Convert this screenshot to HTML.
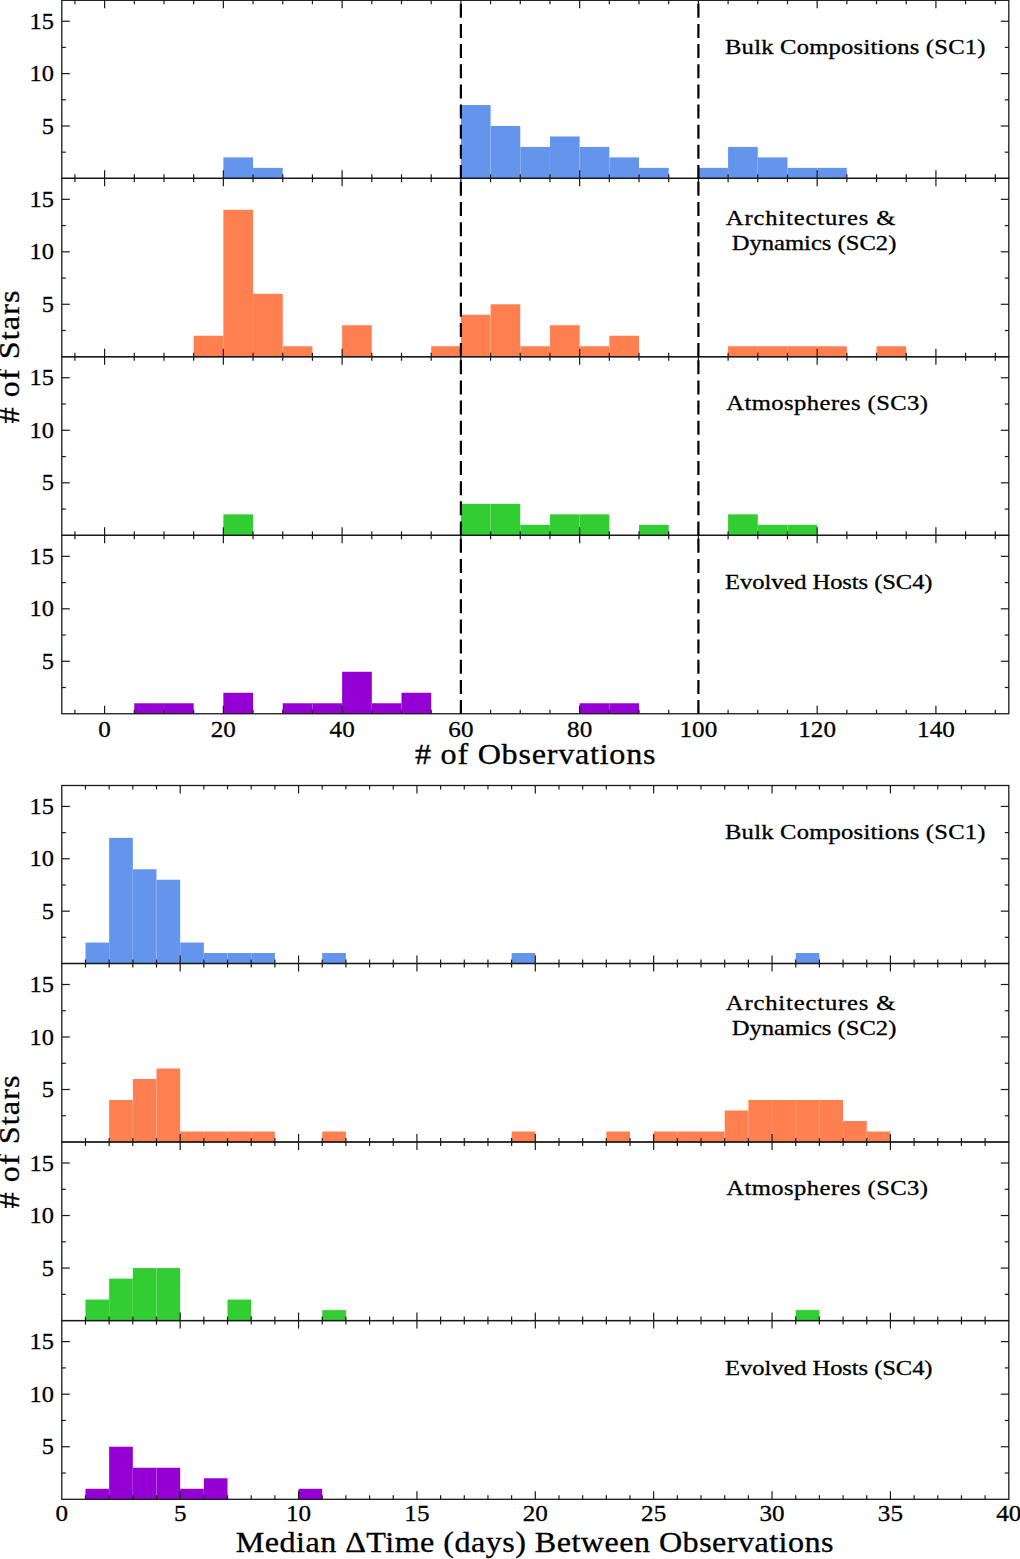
<!DOCTYPE html>
<html><head><meta charset="utf-8"><style>
html,body{margin:0;padding:0;background:#fff;width:1020px;height:1559px;overflow:hidden}
svg{display:block}
.tk{font-family:"Liberation Serif",serif;font-size:23.5px;fill:#000;stroke:#000;stroke-width:0.3px}
.lb{font-family:"Liberation Serif",serif;font-size:20.5px;fill:#000;stroke:#000;stroke-width:0.3px}
.ax{font-family:"Liberation Serif",serif;font-size:28.7px;fill:#000;stroke:#000;stroke-width:0.3px}
</style></head><body>
<svg width="1020" height="1559" viewBox="0 0 1020 1559">
<rect x="223.36" y="157.40" width="29.69" height="20.95" fill="#6495ED"/>
<rect x="253.05" y="167.88" width="29.69" height="10.47" fill="#6495ED"/>
<rect x="460.88" y="105.04" width="29.69" height="73.31" fill="#6495ED"/>
<rect x="490.57" y="125.98" width="29.69" height="52.37" fill="#6495ED"/>
<rect x="520.26" y="146.93" width="29.69" height="31.42" fill="#6495ED"/>
<rect x="549.95" y="136.46" width="29.69" height="41.89" fill="#6495ED"/>
<rect x="579.64" y="146.93" width="29.69" height="31.42" fill="#6495ED"/>
<rect x="609.33" y="157.40" width="29.69" height="20.95" fill="#6495ED"/>
<rect x="639.02" y="167.88" width="29.69" height="10.47" fill="#6495ED"/>
<rect x="698.40" y="167.88" width="29.69" height="10.47" fill="#6495ED"/>
<rect x="728.09" y="146.93" width="29.69" height="31.42" fill="#6495ED"/>
<rect x="757.78" y="157.40" width="29.69" height="20.95" fill="#6495ED"/>
<rect x="787.47" y="167.88" width="29.69" height="10.47" fill="#6495ED"/>
<rect x="817.16" y="167.88" width="29.69" height="10.47" fill="#6495ED"/>
<line x1="253.05" y1="167.88" x2="253.05" y2="178.35" stroke="#fff" stroke-opacity="0.12" stroke-width="0.6"/>
<line x1="490.57" y1="125.98" x2="490.57" y2="178.35" stroke="#fff" stroke-opacity="0.12" stroke-width="0.6"/>
<line x1="520.26" y1="146.93" x2="520.26" y2="178.35" stroke="#fff" stroke-opacity="0.12" stroke-width="0.6"/>
<line x1="549.95" y1="146.93" x2="549.95" y2="178.35" stroke="#fff" stroke-opacity="0.12" stroke-width="0.6"/>
<line x1="579.64" y1="146.93" x2="579.64" y2="178.35" stroke="#fff" stroke-opacity="0.12" stroke-width="0.6"/>
<line x1="609.33" y1="157.40" x2="609.33" y2="178.35" stroke="#fff" stroke-opacity="0.12" stroke-width="0.6"/>
<line x1="639.02" y1="167.88" x2="639.02" y2="178.35" stroke="#fff" stroke-opacity="0.12" stroke-width="0.6"/>
<line x1="728.09" y1="167.88" x2="728.09" y2="178.35" stroke="#fff" stroke-opacity="0.12" stroke-width="0.6"/>
<line x1="757.78" y1="157.40" x2="757.78" y2="178.35" stroke="#fff" stroke-opacity="0.12" stroke-width="0.6"/>
<line x1="787.47" y1="167.88" x2="787.47" y2="178.35" stroke="#fff" stroke-opacity="0.12" stroke-width="0.6"/>
<line x1="817.16" y1="167.88" x2="817.16" y2="178.35" stroke="#fff" stroke-opacity="0.12" stroke-width="0.6"/>
<line x1="74.91" y1="178.35" x2="74.91" y2="174.35" stroke="#1a1a1a" stroke-width="1.2"/>
<line x1="74.91" y1="0.30" x2="74.91" y2="4.30" stroke="#1a1a1a" stroke-width="1.2"/>
<line x1="104.60" y1="178.35" x2="104.60" y2="170.35" stroke="#1a1a1a" stroke-width="1.2"/>
<line x1="104.60" y1="0.30" x2="104.60" y2="8.30" stroke="#1a1a1a" stroke-width="1.2"/>
<line x1="134.29" y1="178.35" x2="134.29" y2="174.35" stroke="#1a1a1a" stroke-width="1.2"/>
<line x1="134.29" y1="0.30" x2="134.29" y2="4.30" stroke="#1a1a1a" stroke-width="1.2"/>
<line x1="163.98" y1="178.35" x2="163.98" y2="174.35" stroke="#1a1a1a" stroke-width="1.2"/>
<line x1="163.98" y1="0.30" x2="163.98" y2="4.30" stroke="#1a1a1a" stroke-width="1.2"/>
<line x1="193.67" y1="178.35" x2="193.67" y2="174.35" stroke="#1a1a1a" stroke-width="1.2"/>
<line x1="193.67" y1="0.30" x2="193.67" y2="4.30" stroke="#1a1a1a" stroke-width="1.2"/>
<line x1="223.36" y1="178.35" x2="223.36" y2="170.35" stroke="#1a1a1a" stroke-width="1.2"/>
<line x1="223.36" y1="0.30" x2="223.36" y2="8.30" stroke="#1a1a1a" stroke-width="1.2"/>
<line x1="253.05" y1="178.35" x2="253.05" y2="174.35" stroke="#1a1a1a" stroke-width="1.2"/>
<line x1="253.05" y1="0.30" x2="253.05" y2="4.30" stroke="#1a1a1a" stroke-width="1.2"/>
<line x1="282.74" y1="178.35" x2="282.74" y2="174.35" stroke="#1a1a1a" stroke-width="1.2"/>
<line x1="282.74" y1="0.30" x2="282.74" y2="4.30" stroke="#1a1a1a" stroke-width="1.2"/>
<line x1="312.43" y1="178.35" x2="312.43" y2="174.35" stroke="#1a1a1a" stroke-width="1.2"/>
<line x1="312.43" y1="0.30" x2="312.43" y2="4.30" stroke="#1a1a1a" stroke-width="1.2"/>
<line x1="342.12" y1="178.35" x2="342.12" y2="170.35" stroke="#1a1a1a" stroke-width="1.2"/>
<line x1="342.12" y1="0.30" x2="342.12" y2="8.30" stroke="#1a1a1a" stroke-width="1.2"/>
<line x1="371.81" y1="178.35" x2="371.81" y2="174.35" stroke="#1a1a1a" stroke-width="1.2"/>
<line x1="371.81" y1="0.30" x2="371.81" y2="4.30" stroke="#1a1a1a" stroke-width="1.2"/>
<line x1="401.50" y1="178.35" x2="401.50" y2="174.35" stroke="#1a1a1a" stroke-width="1.2"/>
<line x1="401.50" y1="0.30" x2="401.50" y2="4.30" stroke="#1a1a1a" stroke-width="1.2"/>
<line x1="431.19" y1="178.35" x2="431.19" y2="174.35" stroke="#1a1a1a" stroke-width="1.2"/>
<line x1="431.19" y1="0.30" x2="431.19" y2="4.30" stroke="#1a1a1a" stroke-width="1.2"/>
<line x1="460.88" y1="178.35" x2="460.88" y2="170.35" stroke="#1a1a1a" stroke-width="1.2"/>
<line x1="460.88" y1="0.30" x2="460.88" y2="8.30" stroke="#1a1a1a" stroke-width="1.2"/>
<line x1="490.57" y1="178.35" x2="490.57" y2="174.35" stroke="#1a1a1a" stroke-width="1.2"/>
<line x1="490.57" y1="0.30" x2="490.57" y2="4.30" stroke="#1a1a1a" stroke-width="1.2"/>
<line x1="520.26" y1="178.35" x2="520.26" y2="174.35" stroke="#1a1a1a" stroke-width="1.2"/>
<line x1="520.26" y1="0.30" x2="520.26" y2="4.30" stroke="#1a1a1a" stroke-width="1.2"/>
<line x1="549.95" y1="178.35" x2="549.95" y2="174.35" stroke="#1a1a1a" stroke-width="1.2"/>
<line x1="549.95" y1="0.30" x2="549.95" y2="4.30" stroke="#1a1a1a" stroke-width="1.2"/>
<line x1="579.64" y1="178.35" x2="579.64" y2="170.35" stroke="#1a1a1a" stroke-width="1.2"/>
<line x1="579.64" y1="0.30" x2="579.64" y2="8.30" stroke="#1a1a1a" stroke-width="1.2"/>
<line x1="609.33" y1="178.35" x2="609.33" y2="174.35" stroke="#1a1a1a" stroke-width="1.2"/>
<line x1="609.33" y1="0.30" x2="609.33" y2="4.30" stroke="#1a1a1a" stroke-width="1.2"/>
<line x1="639.02" y1="178.35" x2="639.02" y2="174.35" stroke="#1a1a1a" stroke-width="1.2"/>
<line x1="639.02" y1="0.30" x2="639.02" y2="4.30" stroke="#1a1a1a" stroke-width="1.2"/>
<line x1="668.71" y1="178.35" x2="668.71" y2="174.35" stroke="#1a1a1a" stroke-width="1.2"/>
<line x1="668.71" y1="0.30" x2="668.71" y2="4.30" stroke="#1a1a1a" stroke-width="1.2"/>
<line x1="698.40" y1="178.35" x2="698.40" y2="170.35" stroke="#1a1a1a" stroke-width="1.2"/>
<line x1="698.40" y1="0.30" x2="698.40" y2="8.30" stroke="#1a1a1a" stroke-width="1.2"/>
<line x1="728.09" y1="178.35" x2="728.09" y2="174.35" stroke="#1a1a1a" stroke-width="1.2"/>
<line x1="728.09" y1="0.30" x2="728.09" y2="4.30" stroke="#1a1a1a" stroke-width="1.2"/>
<line x1="757.78" y1="178.35" x2="757.78" y2="174.35" stroke="#1a1a1a" stroke-width="1.2"/>
<line x1="757.78" y1="0.30" x2="757.78" y2="4.30" stroke="#1a1a1a" stroke-width="1.2"/>
<line x1="787.47" y1="178.35" x2="787.47" y2="174.35" stroke="#1a1a1a" stroke-width="1.2"/>
<line x1="787.47" y1="0.30" x2="787.47" y2="4.30" stroke="#1a1a1a" stroke-width="1.2"/>
<line x1="817.16" y1="178.35" x2="817.16" y2="170.35" stroke="#1a1a1a" stroke-width="1.2"/>
<line x1="817.16" y1="0.30" x2="817.16" y2="8.30" stroke="#1a1a1a" stroke-width="1.2"/>
<line x1="846.85" y1="178.35" x2="846.85" y2="174.35" stroke="#1a1a1a" stroke-width="1.2"/>
<line x1="846.85" y1="0.30" x2="846.85" y2="4.30" stroke="#1a1a1a" stroke-width="1.2"/>
<line x1="876.54" y1="178.35" x2="876.54" y2="174.35" stroke="#1a1a1a" stroke-width="1.2"/>
<line x1="876.54" y1="0.30" x2="876.54" y2="4.30" stroke="#1a1a1a" stroke-width="1.2"/>
<line x1="906.23" y1="178.35" x2="906.23" y2="174.35" stroke="#1a1a1a" stroke-width="1.2"/>
<line x1="906.23" y1="0.30" x2="906.23" y2="4.30" stroke="#1a1a1a" stroke-width="1.2"/>
<line x1="935.92" y1="178.35" x2="935.92" y2="170.35" stroke="#1a1a1a" stroke-width="1.2"/>
<line x1="935.92" y1="0.30" x2="935.92" y2="8.30" stroke="#1a1a1a" stroke-width="1.2"/>
<line x1="965.61" y1="178.35" x2="965.61" y2="174.35" stroke="#1a1a1a" stroke-width="1.2"/>
<line x1="965.61" y1="0.30" x2="965.61" y2="4.30" stroke="#1a1a1a" stroke-width="1.2"/>
<line x1="995.30" y1="178.35" x2="995.30" y2="174.35" stroke="#1a1a1a" stroke-width="1.2"/>
<line x1="995.30" y1="0.30" x2="995.30" y2="4.30" stroke="#1a1a1a" stroke-width="1.2"/>
<line x1="61.80" y1="152.17" x2="65.80" y2="152.17" stroke="#1a1a1a" stroke-width="1.2"/>
<line x1="1008.80" y1="152.17" x2="1004.80" y2="152.17" stroke="#1a1a1a" stroke-width="1.2"/>
<line x1="61.80" y1="125.98" x2="69.80" y2="125.98" stroke="#1a1a1a" stroke-width="1.2"/>
<line x1="1008.80" y1="125.98" x2="1000.80" y2="125.98" stroke="#1a1a1a" stroke-width="1.2"/>
<text transform="translate(54.0,133.58) scale(1.04,1)" text-anchor="end" class="tk">5</text>
<line x1="61.80" y1="99.80" x2="65.80" y2="99.80" stroke="#1a1a1a" stroke-width="1.2"/>
<line x1="1008.80" y1="99.80" x2="1004.80" y2="99.80" stroke="#1a1a1a" stroke-width="1.2"/>
<line x1="61.80" y1="73.61" x2="69.80" y2="73.61" stroke="#1a1a1a" stroke-width="1.2"/>
<line x1="1008.80" y1="73.61" x2="1000.80" y2="73.61" stroke="#1a1a1a" stroke-width="1.2"/>
<text transform="translate(54.0,81.21) scale(1.04,1)" text-anchor="end" class="tk">10</text>
<line x1="61.80" y1="47.43" x2="65.80" y2="47.43" stroke="#1a1a1a" stroke-width="1.2"/>
<line x1="1008.80" y1="47.43" x2="1004.80" y2="47.43" stroke="#1a1a1a" stroke-width="1.2"/>
<line x1="61.80" y1="21.25" x2="69.80" y2="21.25" stroke="#1a1a1a" stroke-width="1.2"/>
<line x1="1008.80" y1="21.25" x2="1000.80" y2="21.25" stroke="#1a1a1a" stroke-width="1.2"/>
<text transform="translate(54.0,28.85) scale(1.04,1)" text-anchor="end" class="tk">15</text>
<text transform="translate(725.00,54.10) scale(1.2,1)" class="lb" textLength="217.1" lengthAdjust="spacing">Bulk Compositions (SC1)</text>
<rect x="61.8" y="0.3" width="947.0" height="178.04999999999998" fill="none" stroke="#1a1a1a" stroke-width="1.3"/>
<rect x="193.67" y="335.76" width="29.69" height="20.99" fill="#FF7F50"/>
<rect x="223.36" y="209.83" width="29.69" height="146.92" fill="#FF7F50"/>
<rect x="253.05" y="293.79" width="29.69" height="62.96" fill="#FF7F50"/>
<rect x="282.74" y="346.26" width="29.69" height="10.49" fill="#FF7F50"/>
<rect x="342.12" y="325.27" width="29.69" height="31.48" fill="#FF7F50"/>
<rect x="431.19" y="346.26" width="29.69" height="10.49" fill="#FF7F50"/>
<rect x="460.88" y="314.77" width="29.69" height="41.98" fill="#FF7F50"/>
<rect x="490.57" y="304.28" width="29.69" height="52.47" fill="#FF7F50"/>
<rect x="520.26" y="346.26" width="29.69" height="10.49" fill="#FF7F50"/>
<rect x="549.95" y="325.27" width="29.69" height="31.48" fill="#FF7F50"/>
<rect x="579.64" y="346.26" width="29.69" height="10.49" fill="#FF7F50"/>
<rect x="609.33" y="335.76" width="29.69" height="20.99" fill="#FF7F50"/>
<rect x="728.09" y="346.26" width="29.69" height="10.49" fill="#FF7F50"/>
<rect x="757.78" y="346.26" width="29.69" height="10.49" fill="#FF7F50"/>
<rect x="787.47" y="346.26" width="29.69" height="10.49" fill="#FF7F50"/>
<rect x="817.16" y="346.26" width="29.69" height="10.49" fill="#FF7F50"/>
<rect x="876.54" y="346.26" width="29.69" height="10.49" fill="#FF7F50"/>
<line x1="223.36" y1="335.76" x2="223.36" y2="356.75" stroke="#fff" stroke-opacity="0.12" stroke-width="0.6"/>
<line x1="253.05" y1="293.79" x2="253.05" y2="356.75" stroke="#fff" stroke-opacity="0.12" stroke-width="0.6"/>
<line x1="282.74" y1="346.26" x2="282.74" y2="356.75" stroke="#fff" stroke-opacity="0.12" stroke-width="0.6"/>
<line x1="460.88" y1="346.26" x2="460.88" y2="356.75" stroke="#fff" stroke-opacity="0.12" stroke-width="0.6"/>
<line x1="490.57" y1="314.77" x2="490.57" y2="356.75" stroke="#fff" stroke-opacity="0.12" stroke-width="0.6"/>
<line x1="520.26" y1="346.26" x2="520.26" y2="356.75" stroke="#fff" stroke-opacity="0.12" stroke-width="0.6"/>
<line x1="549.95" y1="346.26" x2="549.95" y2="356.75" stroke="#fff" stroke-opacity="0.12" stroke-width="0.6"/>
<line x1="579.64" y1="346.26" x2="579.64" y2="356.75" stroke="#fff" stroke-opacity="0.12" stroke-width="0.6"/>
<line x1="609.33" y1="346.26" x2="609.33" y2="356.75" stroke="#fff" stroke-opacity="0.12" stroke-width="0.6"/>
<line x1="757.78" y1="346.26" x2="757.78" y2="356.75" stroke="#fff" stroke-opacity="0.12" stroke-width="0.6"/>
<line x1="787.47" y1="346.26" x2="787.47" y2="356.75" stroke="#fff" stroke-opacity="0.12" stroke-width="0.6"/>
<line x1="817.16" y1="346.26" x2="817.16" y2="356.75" stroke="#fff" stroke-opacity="0.12" stroke-width="0.6"/>
<line x1="74.91" y1="356.75" x2="74.91" y2="352.75" stroke="#1a1a1a" stroke-width="1.2"/>
<line x1="74.91" y1="178.35" x2="74.91" y2="182.35" stroke="#1a1a1a" stroke-width="1.2"/>
<line x1="104.60" y1="356.75" x2="104.60" y2="348.75" stroke="#1a1a1a" stroke-width="1.2"/>
<line x1="104.60" y1="178.35" x2="104.60" y2="186.35" stroke="#1a1a1a" stroke-width="1.2"/>
<line x1="134.29" y1="356.75" x2="134.29" y2="352.75" stroke="#1a1a1a" stroke-width="1.2"/>
<line x1="134.29" y1="178.35" x2="134.29" y2="182.35" stroke="#1a1a1a" stroke-width="1.2"/>
<line x1="163.98" y1="356.75" x2="163.98" y2="352.75" stroke="#1a1a1a" stroke-width="1.2"/>
<line x1="163.98" y1="178.35" x2="163.98" y2="182.35" stroke="#1a1a1a" stroke-width="1.2"/>
<line x1="193.67" y1="356.75" x2="193.67" y2="352.75" stroke="#1a1a1a" stroke-width="1.2"/>
<line x1="193.67" y1="178.35" x2="193.67" y2="182.35" stroke="#1a1a1a" stroke-width="1.2"/>
<line x1="223.36" y1="356.75" x2="223.36" y2="348.75" stroke="#1a1a1a" stroke-width="1.2"/>
<line x1="223.36" y1="178.35" x2="223.36" y2="186.35" stroke="#1a1a1a" stroke-width="1.2"/>
<line x1="253.05" y1="356.75" x2="253.05" y2="352.75" stroke="#1a1a1a" stroke-width="1.2"/>
<line x1="253.05" y1="178.35" x2="253.05" y2="182.35" stroke="#1a1a1a" stroke-width="1.2"/>
<line x1="282.74" y1="356.75" x2="282.74" y2="352.75" stroke="#1a1a1a" stroke-width="1.2"/>
<line x1="282.74" y1="178.35" x2="282.74" y2="182.35" stroke="#1a1a1a" stroke-width="1.2"/>
<line x1="312.43" y1="356.75" x2="312.43" y2="352.75" stroke="#1a1a1a" stroke-width="1.2"/>
<line x1="312.43" y1="178.35" x2="312.43" y2="182.35" stroke="#1a1a1a" stroke-width="1.2"/>
<line x1="342.12" y1="356.75" x2="342.12" y2="348.75" stroke="#1a1a1a" stroke-width="1.2"/>
<line x1="342.12" y1="178.35" x2="342.12" y2="186.35" stroke="#1a1a1a" stroke-width="1.2"/>
<line x1="371.81" y1="356.75" x2="371.81" y2="352.75" stroke="#1a1a1a" stroke-width="1.2"/>
<line x1="371.81" y1="178.35" x2="371.81" y2="182.35" stroke="#1a1a1a" stroke-width="1.2"/>
<line x1="401.50" y1="356.75" x2="401.50" y2="352.75" stroke="#1a1a1a" stroke-width="1.2"/>
<line x1="401.50" y1="178.35" x2="401.50" y2="182.35" stroke="#1a1a1a" stroke-width="1.2"/>
<line x1="431.19" y1="356.75" x2="431.19" y2="352.75" stroke="#1a1a1a" stroke-width="1.2"/>
<line x1="431.19" y1="178.35" x2="431.19" y2="182.35" stroke="#1a1a1a" stroke-width="1.2"/>
<line x1="460.88" y1="356.75" x2="460.88" y2="348.75" stroke="#1a1a1a" stroke-width="1.2"/>
<line x1="460.88" y1="178.35" x2="460.88" y2="186.35" stroke="#1a1a1a" stroke-width="1.2"/>
<line x1="490.57" y1="356.75" x2="490.57" y2="352.75" stroke="#1a1a1a" stroke-width="1.2"/>
<line x1="490.57" y1="178.35" x2="490.57" y2="182.35" stroke="#1a1a1a" stroke-width="1.2"/>
<line x1="520.26" y1="356.75" x2="520.26" y2="352.75" stroke="#1a1a1a" stroke-width="1.2"/>
<line x1="520.26" y1="178.35" x2="520.26" y2="182.35" stroke="#1a1a1a" stroke-width="1.2"/>
<line x1="549.95" y1="356.75" x2="549.95" y2="352.75" stroke="#1a1a1a" stroke-width="1.2"/>
<line x1="549.95" y1="178.35" x2="549.95" y2="182.35" stroke="#1a1a1a" stroke-width="1.2"/>
<line x1="579.64" y1="356.75" x2="579.64" y2="348.75" stroke="#1a1a1a" stroke-width="1.2"/>
<line x1="579.64" y1="178.35" x2="579.64" y2="186.35" stroke="#1a1a1a" stroke-width="1.2"/>
<line x1="609.33" y1="356.75" x2="609.33" y2="352.75" stroke="#1a1a1a" stroke-width="1.2"/>
<line x1="609.33" y1="178.35" x2="609.33" y2="182.35" stroke="#1a1a1a" stroke-width="1.2"/>
<line x1="639.02" y1="356.75" x2="639.02" y2="352.75" stroke="#1a1a1a" stroke-width="1.2"/>
<line x1="639.02" y1="178.35" x2="639.02" y2="182.35" stroke="#1a1a1a" stroke-width="1.2"/>
<line x1="668.71" y1="356.75" x2="668.71" y2="352.75" stroke="#1a1a1a" stroke-width="1.2"/>
<line x1="668.71" y1="178.35" x2="668.71" y2="182.35" stroke="#1a1a1a" stroke-width="1.2"/>
<line x1="698.40" y1="356.75" x2="698.40" y2="348.75" stroke="#1a1a1a" stroke-width="1.2"/>
<line x1="698.40" y1="178.35" x2="698.40" y2="186.35" stroke="#1a1a1a" stroke-width="1.2"/>
<line x1="728.09" y1="356.75" x2="728.09" y2="352.75" stroke="#1a1a1a" stroke-width="1.2"/>
<line x1="728.09" y1="178.35" x2="728.09" y2="182.35" stroke="#1a1a1a" stroke-width="1.2"/>
<line x1="757.78" y1="356.75" x2="757.78" y2="352.75" stroke="#1a1a1a" stroke-width="1.2"/>
<line x1="757.78" y1="178.35" x2="757.78" y2="182.35" stroke="#1a1a1a" stroke-width="1.2"/>
<line x1="787.47" y1="356.75" x2="787.47" y2="352.75" stroke="#1a1a1a" stroke-width="1.2"/>
<line x1="787.47" y1="178.35" x2="787.47" y2="182.35" stroke="#1a1a1a" stroke-width="1.2"/>
<line x1="817.16" y1="356.75" x2="817.16" y2="348.75" stroke="#1a1a1a" stroke-width="1.2"/>
<line x1="817.16" y1="178.35" x2="817.16" y2="186.35" stroke="#1a1a1a" stroke-width="1.2"/>
<line x1="846.85" y1="356.75" x2="846.85" y2="352.75" stroke="#1a1a1a" stroke-width="1.2"/>
<line x1="846.85" y1="178.35" x2="846.85" y2="182.35" stroke="#1a1a1a" stroke-width="1.2"/>
<line x1="876.54" y1="356.75" x2="876.54" y2="352.75" stroke="#1a1a1a" stroke-width="1.2"/>
<line x1="876.54" y1="178.35" x2="876.54" y2="182.35" stroke="#1a1a1a" stroke-width="1.2"/>
<line x1="906.23" y1="356.75" x2="906.23" y2="352.75" stroke="#1a1a1a" stroke-width="1.2"/>
<line x1="906.23" y1="178.35" x2="906.23" y2="182.35" stroke="#1a1a1a" stroke-width="1.2"/>
<line x1="935.92" y1="356.75" x2="935.92" y2="348.75" stroke="#1a1a1a" stroke-width="1.2"/>
<line x1="935.92" y1="178.35" x2="935.92" y2="186.35" stroke="#1a1a1a" stroke-width="1.2"/>
<line x1="965.61" y1="356.75" x2="965.61" y2="352.75" stroke="#1a1a1a" stroke-width="1.2"/>
<line x1="965.61" y1="178.35" x2="965.61" y2="182.35" stroke="#1a1a1a" stroke-width="1.2"/>
<line x1="995.30" y1="356.75" x2="995.30" y2="352.75" stroke="#1a1a1a" stroke-width="1.2"/>
<line x1="995.30" y1="178.35" x2="995.30" y2="182.35" stroke="#1a1a1a" stroke-width="1.2"/>
<line x1="61.80" y1="330.51" x2="65.80" y2="330.51" stroke="#1a1a1a" stroke-width="1.2"/>
<line x1="1008.80" y1="330.51" x2="1004.80" y2="330.51" stroke="#1a1a1a" stroke-width="1.2"/>
<line x1="61.80" y1="304.28" x2="69.80" y2="304.28" stroke="#1a1a1a" stroke-width="1.2"/>
<line x1="1008.80" y1="304.28" x2="1000.80" y2="304.28" stroke="#1a1a1a" stroke-width="1.2"/>
<text transform="translate(54.0,311.88) scale(1.04,1)" text-anchor="end" class="tk">5</text>
<line x1="61.80" y1="278.04" x2="65.80" y2="278.04" stroke="#1a1a1a" stroke-width="1.2"/>
<line x1="1008.80" y1="278.04" x2="1004.80" y2="278.04" stroke="#1a1a1a" stroke-width="1.2"/>
<line x1="61.80" y1="251.81" x2="69.80" y2="251.81" stroke="#1a1a1a" stroke-width="1.2"/>
<line x1="1008.80" y1="251.81" x2="1000.80" y2="251.81" stroke="#1a1a1a" stroke-width="1.2"/>
<text transform="translate(54.0,259.41) scale(1.04,1)" text-anchor="end" class="tk">10</text>
<line x1="61.80" y1="225.57" x2="65.80" y2="225.57" stroke="#1a1a1a" stroke-width="1.2"/>
<line x1="1008.80" y1="225.57" x2="1004.80" y2="225.57" stroke="#1a1a1a" stroke-width="1.2"/>
<line x1="61.80" y1="199.34" x2="69.80" y2="199.34" stroke="#1a1a1a" stroke-width="1.2"/>
<line x1="1008.80" y1="199.34" x2="1000.80" y2="199.34" stroke="#1a1a1a" stroke-width="1.2"/>
<text transform="translate(54.0,206.94) scale(1.04,1)" text-anchor="end" class="tk">15</text>
<text transform="translate(725.80,224.75) scale(1.2,1)" class="lb" textLength="141.3" lengthAdjust="spacing">Architectures &amp;</text>
<text transform="translate(731.70,249.65) scale(1.2,1)" class="lb" textLength="137.2" lengthAdjust="spacing">Dynamics (SC2)</text>
<rect x="61.8" y="178.35" width="947.0" height="178.4" fill="none" stroke="#1a1a1a" stroke-width="1.3"/>
<rect x="223.36" y="514.34" width="29.69" height="21.01" fill="#32CD32"/>
<rect x="460.88" y="503.83" width="29.69" height="31.52" fill="#32CD32"/>
<rect x="490.57" y="503.83" width="29.69" height="31.52" fill="#32CD32"/>
<rect x="520.26" y="524.84" width="29.69" height="10.51" fill="#32CD32"/>
<rect x="549.95" y="514.34" width="29.69" height="21.01" fill="#32CD32"/>
<rect x="579.64" y="514.34" width="29.69" height="21.01" fill="#32CD32"/>
<rect x="639.02" y="524.84" width="29.69" height="10.51" fill="#32CD32"/>
<rect x="728.09" y="514.34" width="29.69" height="21.01" fill="#32CD32"/>
<rect x="757.78" y="524.84" width="29.69" height="10.51" fill="#32CD32"/>
<rect x="787.47" y="524.84" width="29.69" height="10.51" fill="#32CD32"/>
<line x1="490.57" y1="503.83" x2="490.57" y2="535.35" stroke="#fff" stroke-opacity="0.12" stroke-width="0.6"/>
<line x1="520.26" y1="524.84" x2="520.26" y2="535.35" stroke="#fff" stroke-opacity="0.12" stroke-width="0.6"/>
<line x1="549.95" y1="524.84" x2="549.95" y2="535.35" stroke="#fff" stroke-opacity="0.12" stroke-width="0.6"/>
<line x1="579.64" y1="514.34" x2="579.64" y2="535.35" stroke="#fff" stroke-opacity="0.12" stroke-width="0.6"/>
<line x1="757.78" y1="524.84" x2="757.78" y2="535.35" stroke="#fff" stroke-opacity="0.12" stroke-width="0.6"/>
<line x1="787.47" y1="524.84" x2="787.47" y2="535.35" stroke="#fff" stroke-opacity="0.12" stroke-width="0.6"/>
<line x1="74.91" y1="535.35" x2="74.91" y2="531.35" stroke="#1a1a1a" stroke-width="1.2"/>
<line x1="74.91" y1="356.75" x2="74.91" y2="360.75" stroke="#1a1a1a" stroke-width="1.2"/>
<line x1="104.60" y1="535.35" x2="104.60" y2="527.35" stroke="#1a1a1a" stroke-width="1.2"/>
<line x1="104.60" y1="356.75" x2="104.60" y2="364.75" stroke="#1a1a1a" stroke-width="1.2"/>
<line x1="134.29" y1="535.35" x2="134.29" y2="531.35" stroke="#1a1a1a" stroke-width="1.2"/>
<line x1="134.29" y1="356.75" x2="134.29" y2="360.75" stroke="#1a1a1a" stroke-width="1.2"/>
<line x1="163.98" y1="535.35" x2="163.98" y2="531.35" stroke="#1a1a1a" stroke-width="1.2"/>
<line x1="163.98" y1="356.75" x2="163.98" y2="360.75" stroke="#1a1a1a" stroke-width="1.2"/>
<line x1="193.67" y1="535.35" x2="193.67" y2="531.35" stroke="#1a1a1a" stroke-width="1.2"/>
<line x1="193.67" y1="356.75" x2="193.67" y2="360.75" stroke="#1a1a1a" stroke-width="1.2"/>
<line x1="223.36" y1="535.35" x2="223.36" y2="527.35" stroke="#1a1a1a" stroke-width="1.2"/>
<line x1="223.36" y1="356.75" x2="223.36" y2="364.75" stroke="#1a1a1a" stroke-width="1.2"/>
<line x1="253.05" y1="535.35" x2="253.05" y2="531.35" stroke="#1a1a1a" stroke-width="1.2"/>
<line x1="253.05" y1="356.75" x2="253.05" y2="360.75" stroke="#1a1a1a" stroke-width="1.2"/>
<line x1="282.74" y1="535.35" x2="282.74" y2="531.35" stroke="#1a1a1a" stroke-width="1.2"/>
<line x1="282.74" y1="356.75" x2="282.74" y2="360.75" stroke="#1a1a1a" stroke-width="1.2"/>
<line x1="312.43" y1="535.35" x2="312.43" y2="531.35" stroke="#1a1a1a" stroke-width="1.2"/>
<line x1="312.43" y1="356.75" x2="312.43" y2="360.75" stroke="#1a1a1a" stroke-width="1.2"/>
<line x1="342.12" y1="535.35" x2="342.12" y2="527.35" stroke="#1a1a1a" stroke-width="1.2"/>
<line x1="342.12" y1="356.75" x2="342.12" y2="364.75" stroke="#1a1a1a" stroke-width="1.2"/>
<line x1="371.81" y1="535.35" x2="371.81" y2="531.35" stroke="#1a1a1a" stroke-width="1.2"/>
<line x1="371.81" y1="356.75" x2="371.81" y2="360.75" stroke="#1a1a1a" stroke-width="1.2"/>
<line x1="401.50" y1="535.35" x2="401.50" y2="531.35" stroke="#1a1a1a" stroke-width="1.2"/>
<line x1="401.50" y1="356.75" x2="401.50" y2="360.75" stroke="#1a1a1a" stroke-width="1.2"/>
<line x1="431.19" y1="535.35" x2="431.19" y2="531.35" stroke="#1a1a1a" stroke-width="1.2"/>
<line x1="431.19" y1="356.75" x2="431.19" y2="360.75" stroke="#1a1a1a" stroke-width="1.2"/>
<line x1="460.88" y1="535.35" x2="460.88" y2="527.35" stroke="#1a1a1a" stroke-width="1.2"/>
<line x1="460.88" y1="356.75" x2="460.88" y2="364.75" stroke="#1a1a1a" stroke-width="1.2"/>
<line x1="490.57" y1="535.35" x2="490.57" y2="531.35" stroke="#1a1a1a" stroke-width="1.2"/>
<line x1="490.57" y1="356.75" x2="490.57" y2="360.75" stroke="#1a1a1a" stroke-width="1.2"/>
<line x1="520.26" y1="535.35" x2="520.26" y2="531.35" stroke="#1a1a1a" stroke-width="1.2"/>
<line x1="520.26" y1="356.75" x2="520.26" y2="360.75" stroke="#1a1a1a" stroke-width="1.2"/>
<line x1="549.95" y1="535.35" x2="549.95" y2="531.35" stroke="#1a1a1a" stroke-width="1.2"/>
<line x1="549.95" y1="356.75" x2="549.95" y2="360.75" stroke="#1a1a1a" stroke-width="1.2"/>
<line x1="579.64" y1="535.35" x2="579.64" y2="527.35" stroke="#1a1a1a" stroke-width="1.2"/>
<line x1="579.64" y1="356.75" x2="579.64" y2="364.75" stroke="#1a1a1a" stroke-width="1.2"/>
<line x1="609.33" y1="535.35" x2="609.33" y2="531.35" stroke="#1a1a1a" stroke-width="1.2"/>
<line x1="609.33" y1="356.75" x2="609.33" y2="360.75" stroke="#1a1a1a" stroke-width="1.2"/>
<line x1="639.02" y1="535.35" x2="639.02" y2="531.35" stroke="#1a1a1a" stroke-width="1.2"/>
<line x1="639.02" y1="356.75" x2="639.02" y2="360.75" stroke="#1a1a1a" stroke-width="1.2"/>
<line x1="668.71" y1="535.35" x2="668.71" y2="531.35" stroke="#1a1a1a" stroke-width="1.2"/>
<line x1="668.71" y1="356.75" x2="668.71" y2="360.75" stroke="#1a1a1a" stroke-width="1.2"/>
<line x1="698.40" y1="535.35" x2="698.40" y2="527.35" stroke="#1a1a1a" stroke-width="1.2"/>
<line x1="698.40" y1="356.75" x2="698.40" y2="364.75" stroke="#1a1a1a" stroke-width="1.2"/>
<line x1="728.09" y1="535.35" x2="728.09" y2="531.35" stroke="#1a1a1a" stroke-width="1.2"/>
<line x1="728.09" y1="356.75" x2="728.09" y2="360.75" stroke="#1a1a1a" stroke-width="1.2"/>
<line x1="757.78" y1="535.35" x2="757.78" y2="531.35" stroke="#1a1a1a" stroke-width="1.2"/>
<line x1="757.78" y1="356.75" x2="757.78" y2="360.75" stroke="#1a1a1a" stroke-width="1.2"/>
<line x1="787.47" y1="535.35" x2="787.47" y2="531.35" stroke="#1a1a1a" stroke-width="1.2"/>
<line x1="787.47" y1="356.75" x2="787.47" y2="360.75" stroke="#1a1a1a" stroke-width="1.2"/>
<line x1="817.16" y1="535.35" x2="817.16" y2="527.35" stroke="#1a1a1a" stroke-width="1.2"/>
<line x1="817.16" y1="356.75" x2="817.16" y2="364.75" stroke="#1a1a1a" stroke-width="1.2"/>
<line x1="846.85" y1="535.35" x2="846.85" y2="531.35" stroke="#1a1a1a" stroke-width="1.2"/>
<line x1="846.85" y1="356.75" x2="846.85" y2="360.75" stroke="#1a1a1a" stroke-width="1.2"/>
<line x1="876.54" y1="535.35" x2="876.54" y2="531.35" stroke="#1a1a1a" stroke-width="1.2"/>
<line x1="876.54" y1="356.75" x2="876.54" y2="360.75" stroke="#1a1a1a" stroke-width="1.2"/>
<line x1="906.23" y1="535.35" x2="906.23" y2="531.35" stroke="#1a1a1a" stroke-width="1.2"/>
<line x1="906.23" y1="356.75" x2="906.23" y2="360.75" stroke="#1a1a1a" stroke-width="1.2"/>
<line x1="935.92" y1="535.35" x2="935.92" y2="527.35" stroke="#1a1a1a" stroke-width="1.2"/>
<line x1="935.92" y1="356.75" x2="935.92" y2="364.75" stroke="#1a1a1a" stroke-width="1.2"/>
<line x1="965.61" y1="535.35" x2="965.61" y2="531.35" stroke="#1a1a1a" stroke-width="1.2"/>
<line x1="965.61" y1="356.75" x2="965.61" y2="360.75" stroke="#1a1a1a" stroke-width="1.2"/>
<line x1="995.30" y1="535.35" x2="995.30" y2="531.35" stroke="#1a1a1a" stroke-width="1.2"/>
<line x1="995.30" y1="356.75" x2="995.30" y2="360.75" stroke="#1a1a1a" stroke-width="1.2"/>
<line x1="61.80" y1="509.09" x2="65.80" y2="509.09" stroke="#1a1a1a" stroke-width="1.2"/>
<line x1="1008.80" y1="509.09" x2="1004.80" y2="509.09" stroke="#1a1a1a" stroke-width="1.2"/>
<line x1="61.80" y1="482.82" x2="69.80" y2="482.82" stroke="#1a1a1a" stroke-width="1.2"/>
<line x1="1008.80" y1="482.82" x2="1000.80" y2="482.82" stroke="#1a1a1a" stroke-width="1.2"/>
<text transform="translate(54.0,490.42) scale(1.04,1)" text-anchor="end" class="tk">5</text>
<line x1="61.80" y1="456.56" x2="65.80" y2="456.56" stroke="#1a1a1a" stroke-width="1.2"/>
<line x1="1008.80" y1="456.56" x2="1004.80" y2="456.56" stroke="#1a1a1a" stroke-width="1.2"/>
<line x1="61.80" y1="430.29" x2="69.80" y2="430.29" stroke="#1a1a1a" stroke-width="1.2"/>
<line x1="1008.80" y1="430.29" x2="1000.80" y2="430.29" stroke="#1a1a1a" stroke-width="1.2"/>
<text transform="translate(54.0,437.89) scale(1.04,1)" text-anchor="end" class="tk">10</text>
<line x1="61.80" y1="404.03" x2="65.80" y2="404.03" stroke="#1a1a1a" stroke-width="1.2"/>
<line x1="1008.80" y1="404.03" x2="1004.80" y2="404.03" stroke="#1a1a1a" stroke-width="1.2"/>
<line x1="61.80" y1="377.76" x2="69.80" y2="377.76" stroke="#1a1a1a" stroke-width="1.2"/>
<line x1="1008.80" y1="377.76" x2="1000.80" y2="377.76" stroke="#1a1a1a" stroke-width="1.2"/>
<text transform="translate(54.0,385.36) scale(1.04,1)" text-anchor="end" class="tk">15</text>
<text transform="translate(726.30,410.05) scale(1.2,1)" class="lb" textLength="168.1" lengthAdjust="spacing">Atmospheres (SC3)</text>
<rect x="61.8" y="356.75" width="947.0" height="178.60000000000002" fill="none" stroke="#1a1a1a" stroke-width="1.3"/>
<rect x="134.29" y="703.26" width="29.69" height="10.49" fill="#9400D3"/>
<rect x="163.98" y="703.26" width="29.69" height="10.49" fill="#9400D3"/>
<rect x="223.36" y="692.76" width="29.69" height="20.99" fill="#9400D3"/>
<rect x="282.74" y="703.26" width="29.69" height="10.49" fill="#9400D3"/>
<rect x="312.43" y="703.26" width="29.69" height="10.49" fill="#9400D3"/>
<rect x="342.12" y="671.77" width="29.69" height="41.98" fill="#9400D3"/>
<rect x="371.81" y="703.26" width="29.69" height="10.49" fill="#9400D3"/>
<rect x="401.50" y="692.76" width="29.69" height="20.99" fill="#9400D3"/>
<rect x="579.64" y="703.26" width="29.69" height="10.49" fill="#9400D3"/>
<rect x="609.33" y="703.26" width="29.69" height="10.49" fill="#9400D3"/>
<line x1="163.98" y1="703.26" x2="163.98" y2="713.75" stroke="#fff" stroke-opacity="0.12" stroke-width="0.6"/>
<line x1="312.43" y1="703.26" x2="312.43" y2="713.75" stroke="#fff" stroke-opacity="0.12" stroke-width="0.6"/>
<line x1="342.12" y1="703.26" x2="342.12" y2="713.75" stroke="#fff" stroke-opacity="0.12" stroke-width="0.6"/>
<line x1="371.81" y1="703.26" x2="371.81" y2="713.75" stroke="#fff" stroke-opacity="0.12" stroke-width="0.6"/>
<line x1="401.50" y1="703.26" x2="401.50" y2="713.75" stroke="#fff" stroke-opacity="0.12" stroke-width="0.6"/>
<line x1="609.33" y1="703.26" x2="609.33" y2="713.75" stroke="#fff" stroke-opacity="0.12" stroke-width="0.6"/>
<line x1="74.91" y1="713.75" x2="74.91" y2="709.75" stroke="#1a1a1a" stroke-width="1.2"/>
<line x1="74.91" y1="535.35" x2="74.91" y2="539.35" stroke="#1a1a1a" stroke-width="1.2"/>
<line x1="104.60" y1="713.75" x2="104.60" y2="705.75" stroke="#1a1a1a" stroke-width="1.2"/>
<line x1="104.60" y1="535.35" x2="104.60" y2="543.35" stroke="#1a1a1a" stroke-width="1.2"/>
<line x1="134.29" y1="713.75" x2="134.29" y2="709.75" stroke="#1a1a1a" stroke-width="1.2"/>
<line x1="134.29" y1="535.35" x2="134.29" y2="539.35" stroke="#1a1a1a" stroke-width="1.2"/>
<line x1="163.98" y1="713.75" x2="163.98" y2="709.75" stroke="#1a1a1a" stroke-width="1.2"/>
<line x1="163.98" y1="535.35" x2="163.98" y2="539.35" stroke="#1a1a1a" stroke-width="1.2"/>
<line x1="193.67" y1="713.75" x2="193.67" y2="709.75" stroke="#1a1a1a" stroke-width="1.2"/>
<line x1="193.67" y1="535.35" x2="193.67" y2="539.35" stroke="#1a1a1a" stroke-width="1.2"/>
<line x1="223.36" y1="713.75" x2="223.36" y2="705.75" stroke="#1a1a1a" stroke-width="1.2"/>
<line x1="223.36" y1="535.35" x2="223.36" y2="543.35" stroke="#1a1a1a" stroke-width="1.2"/>
<line x1="253.05" y1="713.75" x2="253.05" y2="709.75" stroke="#1a1a1a" stroke-width="1.2"/>
<line x1="253.05" y1="535.35" x2="253.05" y2="539.35" stroke="#1a1a1a" stroke-width="1.2"/>
<line x1="282.74" y1="713.75" x2="282.74" y2="709.75" stroke="#1a1a1a" stroke-width="1.2"/>
<line x1="282.74" y1="535.35" x2="282.74" y2="539.35" stroke="#1a1a1a" stroke-width="1.2"/>
<line x1="312.43" y1="713.75" x2="312.43" y2="709.75" stroke="#1a1a1a" stroke-width="1.2"/>
<line x1="312.43" y1="535.35" x2="312.43" y2="539.35" stroke="#1a1a1a" stroke-width="1.2"/>
<line x1="342.12" y1="713.75" x2="342.12" y2="705.75" stroke="#1a1a1a" stroke-width="1.2"/>
<line x1="342.12" y1="535.35" x2="342.12" y2="543.35" stroke="#1a1a1a" stroke-width="1.2"/>
<line x1="371.81" y1="713.75" x2="371.81" y2="709.75" stroke="#1a1a1a" stroke-width="1.2"/>
<line x1="371.81" y1="535.35" x2="371.81" y2="539.35" stroke="#1a1a1a" stroke-width="1.2"/>
<line x1="401.50" y1="713.75" x2="401.50" y2="709.75" stroke="#1a1a1a" stroke-width="1.2"/>
<line x1="401.50" y1="535.35" x2="401.50" y2="539.35" stroke="#1a1a1a" stroke-width="1.2"/>
<line x1="431.19" y1="713.75" x2="431.19" y2="709.75" stroke="#1a1a1a" stroke-width="1.2"/>
<line x1="431.19" y1="535.35" x2="431.19" y2="539.35" stroke="#1a1a1a" stroke-width="1.2"/>
<line x1="460.88" y1="713.75" x2="460.88" y2="705.75" stroke="#1a1a1a" stroke-width="1.2"/>
<line x1="460.88" y1="535.35" x2="460.88" y2="543.35" stroke="#1a1a1a" stroke-width="1.2"/>
<line x1="490.57" y1="713.75" x2="490.57" y2="709.75" stroke="#1a1a1a" stroke-width="1.2"/>
<line x1="490.57" y1="535.35" x2="490.57" y2="539.35" stroke="#1a1a1a" stroke-width="1.2"/>
<line x1="520.26" y1="713.75" x2="520.26" y2="709.75" stroke="#1a1a1a" stroke-width="1.2"/>
<line x1="520.26" y1="535.35" x2="520.26" y2="539.35" stroke="#1a1a1a" stroke-width="1.2"/>
<line x1="549.95" y1="713.75" x2="549.95" y2="709.75" stroke="#1a1a1a" stroke-width="1.2"/>
<line x1="549.95" y1="535.35" x2="549.95" y2="539.35" stroke="#1a1a1a" stroke-width="1.2"/>
<line x1="579.64" y1="713.75" x2="579.64" y2="705.75" stroke="#1a1a1a" stroke-width="1.2"/>
<line x1="579.64" y1="535.35" x2="579.64" y2="543.35" stroke="#1a1a1a" stroke-width="1.2"/>
<line x1="609.33" y1="713.75" x2="609.33" y2="709.75" stroke="#1a1a1a" stroke-width="1.2"/>
<line x1="609.33" y1="535.35" x2="609.33" y2="539.35" stroke="#1a1a1a" stroke-width="1.2"/>
<line x1="639.02" y1="713.75" x2="639.02" y2="709.75" stroke="#1a1a1a" stroke-width="1.2"/>
<line x1="639.02" y1="535.35" x2="639.02" y2="539.35" stroke="#1a1a1a" stroke-width="1.2"/>
<line x1="668.71" y1="713.75" x2="668.71" y2="709.75" stroke="#1a1a1a" stroke-width="1.2"/>
<line x1="668.71" y1="535.35" x2="668.71" y2="539.35" stroke="#1a1a1a" stroke-width="1.2"/>
<line x1="698.40" y1="713.75" x2="698.40" y2="705.75" stroke="#1a1a1a" stroke-width="1.2"/>
<line x1="698.40" y1="535.35" x2="698.40" y2="543.35" stroke="#1a1a1a" stroke-width="1.2"/>
<line x1="728.09" y1="713.75" x2="728.09" y2="709.75" stroke="#1a1a1a" stroke-width="1.2"/>
<line x1="728.09" y1="535.35" x2="728.09" y2="539.35" stroke="#1a1a1a" stroke-width="1.2"/>
<line x1="757.78" y1="713.75" x2="757.78" y2="709.75" stroke="#1a1a1a" stroke-width="1.2"/>
<line x1="757.78" y1="535.35" x2="757.78" y2="539.35" stroke="#1a1a1a" stroke-width="1.2"/>
<line x1="787.47" y1="713.75" x2="787.47" y2="709.75" stroke="#1a1a1a" stroke-width="1.2"/>
<line x1="787.47" y1="535.35" x2="787.47" y2="539.35" stroke="#1a1a1a" stroke-width="1.2"/>
<line x1="817.16" y1="713.75" x2="817.16" y2="705.75" stroke="#1a1a1a" stroke-width="1.2"/>
<line x1="817.16" y1="535.35" x2="817.16" y2="543.35" stroke="#1a1a1a" stroke-width="1.2"/>
<line x1="846.85" y1="713.75" x2="846.85" y2="709.75" stroke="#1a1a1a" stroke-width="1.2"/>
<line x1="846.85" y1="535.35" x2="846.85" y2="539.35" stroke="#1a1a1a" stroke-width="1.2"/>
<line x1="876.54" y1="713.75" x2="876.54" y2="709.75" stroke="#1a1a1a" stroke-width="1.2"/>
<line x1="876.54" y1="535.35" x2="876.54" y2="539.35" stroke="#1a1a1a" stroke-width="1.2"/>
<line x1="906.23" y1="713.75" x2="906.23" y2="709.75" stroke="#1a1a1a" stroke-width="1.2"/>
<line x1="906.23" y1="535.35" x2="906.23" y2="539.35" stroke="#1a1a1a" stroke-width="1.2"/>
<line x1="935.92" y1="713.75" x2="935.92" y2="705.75" stroke="#1a1a1a" stroke-width="1.2"/>
<line x1="935.92" y1="535.35" x2="935.92" y2="543.35" stroke="#1a1a1a" stroke-width="1.2"/>
<line x1="965.61" y1="713.75" x2="965.61" y2="709.75" stroke="#1a1a1a" stroke-width="1.2"/>
<line x1="965.61" y1="535.35" x2="965.61" y2="539.35" stroke="#1a1a1a" stroke-width="1.2"/>
<line x1="995.30" y1="713.75" x2="995.30" y2="709.75" stroke="#1a1a1a" stroke-width="1.2"/>
<line x1="995.30" y1="535.35" x2="995.30" y2="539.35" stroke="#1a1a1a" stroke-width="1.2"/>
<line x1="61.80" y1="687.51" x2="65.80" y2="687.51" stroke="#1a1a1a" stroke-width="1.2"/>
<line x1="1008.80" y1="687.51" x2="1004.80" y2="687.51" stroke="#1a1a1a" stroke-width="1.2"/>
<line x1="61.80" y1="661.28" x2="69.80" y2="661.28" stroke="#1a1a1a" stroke-width="1.2"/>
<line x1="1008.80" y1="661.28" x2="1000.80" y2="661.28" stroke="#1a1a1a" stroke-width="1.2"/>
<text transform="translate(54.0,668.88) scale(1.04,1)" text-anchor="end" class="tk">5</text>
<line x1="61.80" y1="635.04" x2="65.80" y2="635.04" stroke="#1a1a1a" stroke-width="1.2"/>
<line x1="1008.80" y1="635.04" x2="1004.80" y2="635.04" stroke="#1a1a1a" stroke-width="1.2"/>
<line x1="61.80" y1="608.81" x2="69.80" y2="608.81" stroke="#1a1a1a" stroke-width="1.2"/>
<line x1="1008.80" y1="608.81" x2="1000.80" y2="608.81" stroke="#1a1a1a" stroke-width="1.2"/>
<text transform="translate(54.0,616.41) scale(1.04,1)" text-anchor="end" class="tk">10</text>
<line x1="61.80" y1="582.57" x2="65.80" y2="582.57" stroke="#1a1a1a" stroke-width="1.2"/>
<line x1="1008.80" y1="582.57" x2="1004.80" y2="582.57" stroke="#1a1a1a" stroke-width="1.2"/>
<line x1="61.80" y1="556.34" x2="69.80" y2="556.34" stroke="#1a1a1a" stroke-width="1.2"/>
<line x1="1008.80" y1="556.34" x2="1000.80" y2="556.34" stroke="#1a1a1a" stroke-width="1.2"/>
<text transform="translate(54.0,563.94) scale(1.04,1)" text-anchor="end" class="tk">15</text>
<text transform="translate(725.10,589.35) scale(1.2,1)" class="lb" textLength="172.9" lengthAdjust="spacing">Evolved Hosts (SC4)</text>
<rect x="61.8" y="535.35" width="947.0" height="178.39999999999998" fill="none" stroke="#1a1a1a" stroke-width="1.3"/>
<line x1="460.88" y1="0.30" x2="460.88" y2="178.35" stroke="#000" stroke-width="2.2" stroke-dasharray="14 6.15" stroke-dashoffset="16.65"/>
<line x1="698.40" y1="0.30" x2="698.40" y2="178.35" stroke="#000" stroke-width="2.2" stroke-dasharray="14 6.15" stroke-dashoffset="16.65"/>
<line x1="460.88" y1="178.35" x2="460.88" y2="356.75" stroke="#000" stroke-width="2.2" stroke-dasharray="14 6.15" stroke-dashoffset="16.65"/>
<line x1="698.40" y1="178.35" x2="698.40" y2="356.75" stroke="#000" stroke-width="2.2" stroke-dasharray="14 6.15" stroke-dashoffset="16.65"/>
<line x1="460.88" y1="356.75" x2="460.88" y2="535.35" stroke="#000" stroke-width="2.2" stroke-dasharray="14 6.15" stroke-dashoffset="16.65"/>
<line x1="698.40" y1="356.75" x2="698.40" y2="535.35" stroke="#000" stroke-width="2.2" stroke-dasharray="14 6.15" stroke-dashoffset="16.65"/>
<line x1="460.88" y1="535.35" x2="460.88" y2="713.75" stroke="#000" stroke-width="2.2" stroke-dasharray="14 6.15" stroke-dashoffset="16.65"/>
<line x1="698.40" y1="535.35" x2="698.40" y2="713.75" stroke="#000" stroke-width="2.2" stroke-dasharray="14 6.15" stroke-dashoffset="16.65"/>
<text transform="translate(104.60,736.8) scale(1.07,1)" text-anchor="middle" class="tk">0</text>
<text transform="translate(223.36,736.8) scale(1.07,1)" text-anchor="middle" class="tk">20</text>
<text transform="translate(342.12,736.8) scale(1.07,1)" text-anchor="middle" class="tk">40</text>
<text transform="translate(460.88,736.8) scale(1.07,1)" text-anchor="middle" class="tk">60</text>
<text transform="translate(579.64,736.8) scale(1.07,1)" text-anchor="middle" class="tk">80</text>
<text transform="translate(698.40,736.8) scale(1.07,1)" text-anchor="middle" class="tk">100</text>
<text transform="translate(817.16,736.8) scale(1.07,1)" text-anchor="middle" class="tk">120</text>
<text transform="translate(935.92,736.8) scale(1.07,1)" text-anchor="middle" class="tk">140</text>
<text transform="translate(415,764.2) scale(1.12,1)" class="ax" textLength="214.7" lengthAdjust="spacing"># of Observations</text>
<rect x="85.47" y="942.56" width="23.68" height="20.94" fill="#6495ED"/>
<rect x="109.15" y="837.85" width="23.67" height="125.65" fill="#6495ED"/>
<rect x="132.82" y="869.26" width="23.68" height="94.24" fill="#6495ED"/>
<rect x="156.50" y="879.74" width="23.68" height="83.76" fill="#6495ED"/>
<rect x="180.18" y="942.56" width="23.68" height="20.94" fill="#6495ED"/>
<rect x="203.85" y="953.03" width="23.67" height="10.47" fill="#6495ED"/>
<rect x="227.52" y="953.03" width="23.68" height="10.47" fill="#6495ED"/>
<rect x="251.20" y="953.03" width="23.68" height="10.47" fill="#6495ED"/>
<rect x="322.23" y="953.03" width="23.68" height="10.47" fill="#6495ED"/>
<rect x="511.62" y="953.03" width="23.67" height="10.47" fill="#6495ED"/>
<rect x="795.73" y="953.03" width="23.67" height="10.47" fill="#6495ED"/>
<line x1="109.15" y1="942.56" x2="109.15" y2="963.50" stroke="#fff" stroke-opacity="0.12" stroke-width="0.6"/>
<line x1="132.82" y1="869.26" x2="132.82" y2="963.50" stroke="#fff" stroke-opacity="0.12" stroke-width="0.6"/>
<line x1="156.50" y1="879.74" x2="156.50" y2="963.50" stroke="#fff" stroke-opacity="0.12" stroke-width="0.6"/>
<line x1="180.18" y1="942.56" x2="180.18" y2="963.50" stroke="#fff" stroke-opacity="0.12" stroke-width="0.6"/>
<line x1="203.85" y1="953.03" x2="203.85" y2="963.50" stroke="#fff" stroke-opacity="0.12" stroke-width="0.6"/>
<line x1="227.52" y1="953.03" x2="227.52" y2="963.50" stroke="#fff" stroke-opacity="0.12" stroke-width="0.6"/>
<line x1="251.20" y1="953.03" x2="251.20" y2="963.50" stroke="#fff" stroke-opacity="0.12" stroke-width="0.6"/>
<line x1="85.47" y1="963.50" x2="85.47" y2="959.50" stroke="#1a1a1a" stroke-width="1.2"/>
<line x1="85.47" y1="785.50" x2="85.47" y2="789.50" stroke="#1a1a1a" stroke-width="1.2"/>
<line x1="109.15" y1="963.50" x2="109.15" y2="959.50" stroke="#1a1a1a" stroke-width="1.2"/>
<line x1="109.15" y1="785.50" x2="109.15" y2="789.50" stroke="#1a1a1a" stroke-width="1.2"/>
<line x1="132.82" y1="963.50" x2="132.82" y2="959.50" stroke="#1a1a1a" stroke-width="1.2"/>
<line x1="132.82" y1="785.50" x2="132.82" y2="789.50" stroke="#1a1a1a" stroke-width="1.2"/>
<line x1="156.50" y1="963.50" x2="156.50" y2="959.50" stroke="#1a1a1a" stroke-width="1.2"/>
<line x1="156.50" y1="785.50" x2="156.50" y2="789.50" stroke="#1a1a1a" stroke-width="1.2"/>
<line x1="180.18" y1="963.50" x2="180.18" y2="955.50" stroke="#1a1a1a" stroke-width="1.2"/>
<line x1="180.18" y1="785.50" x2="180.18" y2="793.50" stroke="#1a1a1a" stroke-width="1.2"/>
<line x1="203.85" y1="963.50" x2="203.85" y2="959.50" stroke="#1a1a1a" stroke-width="1.2"/>
<line x1="203.85" y1="785.50" x2="203.85" y2="789.50" stroke="#1a1a1a" stroke-width="1.2"/>
<line x1="227.52" y1="963.50" x2="227.52" y2="959.50" stroke="#1a1a1a" stroke-width="1.2"/>
<line x1="227.52" y1="785.50" x2="227.52" y2="789.50" stroke="#1a1a1a" stroke-width="1.2"/>
<line x1="251.20" y1="963.50" x2="251.20" y2="959.50" stroke="#1a1a1a" stroke-width="1.2"/>
<line x1="251.20" y1="785.50" x2="251.20" y2="789.50" stroke="#1a1a1a" stroke-width="1.2"/>
<line x1="274.88" y1="963.50" x2="274.88" y2="959.50" stroke="#1a1a1a" stroke-width="1.2"/>
<line x1="274.88" y1="785.50" x2="274.88" y2="789.50" stroke="#1a1a1a" stroke-width="1.2"/>
<line x1="298.55" y1="963.50" x2="298.55" y2="955.50" stroke="#1a1a1a" stroke-width="1.2"/>
<line x1="298.55" y1="785.50" x2="298.55" y2="793.50" stroke="#1a1a1a" stroke-width="1.2"/>
<line x1="322.23" y1="963.50" x2="322.23" y2="959.50" stroke="#1a1a1a" stroke-width="1.2"/>
<line x1="322.23" y1="785.50" x2="322.23" y2="789.50" stroke="#1a1a1a" stroke-width="1.2"/>
<line x1="345.90" y1="963.50" x2="345.90" y2="959.50" stroke="#1a1a1a" stroke-width="1.2"/>
<line x1="345.90" y1="785.50" x2="345.90" y2="789.50" stroke="#1a1a1a" stroke-width="1.2"/>
<line x1="369.58" y1="963.50" x2="369.58" y2="959.50" stroke="#1a1a1a" stroke-width="1.2"/>
<line x1="369.58" y1="785.50" x2="369.58" y2="789.50" stroke="#1a1a1a" stroke-width="1.2"/>
<line x1="393.25" y1="963.50" x2="393.25" y2="959.50" stroke="#1a1a1a" stroke-width="1.2"/>
<line x1="393.25" y1="785.50" x2="393.25" y2="789.50" stroke="#1a1a1a" stroke-width="1.2"/>
<line x1="416.93" y1="963.50" x2="416.93" y2="955.50" stroke="#1a1a1a" stroke-width="1.2"/>
<line x1="416.93" y1="785.50" x2="416.93" y2="793.50" stroke="#1a1a1a" stroke-width="1.2"/>
<line x1="440.60" y1="963.50" x2="440.60" y2="959.50" stroke="#1a1a1a" stroke-width="1.2"/>
<line x1="440.60" y1="785.50" x2="440.60" y2="789.50" stroke="#1a1a1a" stroke-width="1.2"/>
<line x1="464.28" y1="963.50" x2="464.28" y2="959.50" stroke="#1a1a1a" stroke-width="1.2"/>
<line x1="464.28" y1="785.50" x2="464.28" y2="789.50" stroke="#1a1a1a" stroke-width="1.2"/>
<line x1="487.95" y1="963.50" x2="487.95" y2="959.50" stroke="#1a1a1a" stroke-width="1.2"/>
<line x1="487.95" y1="785.50" x2="487.95" y2="789.50" stroke="#1a1a1a" stroke-width="1.2"/>
<line x1="511.62" y1="963.50" x2="511.62" y2="959.50" stroke="#1a1a1a" stroke-width="1.2"/>
<line x1="511.62" y1="785.50" x2="511.62" y2="789.50" stroke="#1a1a1a" stroke-width="1.2"/>
<line x1="535.30" y1="963.50" x2="535.30" y2="955.50" stroke="#1a1a1a" stroke-width="1.2"/>
<line x1="535.30" y1="785.50" x2="535.30" y2="793.50" stroke="#1a1a1a" stroke-width="1.2"/>
<line x1="558.98" y1="963.50" x2="558.98" y2="959.50" stroke="#1a1a1a" stroke-width="1.2"/>
<line x1="558.98" y1="785.50" x2="558.98" y2="789.50" stroke="#1a1a1a" stroke-width="1.2"/>
<line x1="582.65" y1="963.50" x2="582.65" y2="959.50" stroke="#1a1a1a" stroke-width="1.2"/>
<line x1="582.65" y1="785.50" x2="582.65" y2="789.50" stroke="#1a1a1a" stroke-width="1.2"/>
<line x1="606.32" y1="963.50" x2="606.32" y2="959.50" stroke="#1a1a1a" stroke-width="1.2"/>
<line x1="606.32" y1="785.50" x2="606.32" y2="789.50" stroke="#1a1a1a" stroke-width="1.2"/>
<line x1="630.00" y1="963.50" x2="630.00" y2="959.50" stroke="#1a1a1a" stroke-width="1.2"/>
<line x1="630.00" y1="785.50" x2="630.00" y2="789.50" stroke="#1a1a1a" stroke-width="1.2"/>
<line x1="653.67" y1="963.50" x2="653.67" y2="955.50" stroke="#1a1a1a" stroke-width="1.2"/>
<line x1="653.67" y1="785.50" x2="653.67" y2="793.50" stroke="#1a1a1a" stroke-width="1.2"/>
<line x1="677.35" y1="963.50" x2="677.35" y2="959.50" stroke="#1a1a1a" stroke-width="1.2"/>
<line x1="677.35" y1="785.50" x2="677.35" y2="789.50" stroke="#1a1a1a" stroke-width="1.2"/>
<line x1="701.02" y1="963.50" x2="701.02" y2="959.50" stroke="#1a1a1a" stroke-width="1.2"/>
<line x1="701.02" y1="785.50" x2="701.02" y2="789.50" stroke="#1a1a1a" stroke-width="1.2"/>
<line x1="724.70" y1="963.50" x2="724.70" y2="959.50" stroke="#1a1a1a" stroke-width="1.2"/>
<line x1="724.70" y1="785.50" x2="724.70" y2="789.50" stroke="#1a1a1a" stroke-width="1.2"/>
<line x1="748.38" y1="963.50" x2="748.38" y2="959.50" stroke="#1a1a1a" stroke-width="1.2"/>
<line x1="748.38" y1="785.50" x2="748.38" y2="789.50" stroke="#1a1a1a" stroke-width="1.2"/>
<line x1="772.05" y1="963.50" x2="772.05" y2="955.50" stroke="#1a1a1a" stroke-width="1.2"/>
<line x1="772.05" y1="785.50" x2="772.05" y2="793.50" stroke="#1a1a1a" stroke-width="1.2"/>
<line x1="795.73" y1="963.50" x2="795.73" y2="959.50" stroke="#1a1a1a" stroke-width="1.2"/>
<line x1="795.73" y1="785.50" x2="795.73" y2="789.50" stroke="#1a1a1a" stroke-width="1.2"/>
<line x1="819.40" y1="963.50" x2="819.40" y2="959.50" stroke="#1a1a1a" stroke-width="1.2"/>
<line x1="819.40" y1="785.50" x2="819.40" y2="789.50" stroke="#1a1a1a" stroke-width="1.2"/>
<line x1="843.07" y1="963.50" x2="843.07" y2="959.50" stroke="#1a1a1a" stroke-width="1.2"/>
<line x1="843.07" y1="785.50" x2="843.07" y2="789.50" stroke="#1a1a1a" stroke-width="1.2"/>
<line x1="866.75" y1="963.50" x2="866.75" y2="959.50" stroke="#1a1a1a" stroke-width="1.2"/>
<line x1="866.75" y1="785.50" x2="866.75" y2="789.50" stroke="#1a1a1a" stroke-width="1.2"/>
<line x1="890.42" y1="963.50" x2="890.42" y2="955.50" stroke="#1a1a1a" stroke-width="1.2"/>
<line x1="890.42" y1="785.50" x2="890.42" y2="793.50" stroke="#1a1a1a" stroke-width="1.2"/>
<line x1="914.10" y1="963.50" x2="914.10" y2="959.50" stroke="#1a1a1a" stroke-width="1.2"/>
<line x1="914.10" y1="785.50" x2="914.10" y2="789.50" stroke="#1a1a1a" stroke-width="1.2"/>
<line x1="937.77" y1="963.50" x2="937.77" y2="959.50" stroke="#1a1a1a" stroke-width="1.2"/>
<line x1="937.77" y1="785.50" x2="937.77" y2="789.50" stroke="#1a1a1a" stroke-width="1.2"/>
<line x1="961.45" y1="963.50" x2="961.45" y2="959.50" stroke="#1a1a1a" stroke-width="1.2"/>
<line x1="961.45" y1="785.50" x2="961.45" y2="789.50" stroke="#1a1a1a" stroke-width="1.2"/>
<line x1="985.12" y1="963.50" x2="985.12" y2="959.50" stroke="#1a1a1a" stroke-width="1.2"/>
<line x1="985.12" y1="785.50" x2="985.12" y2="789.50" stroke="#1a1a1a" stroke-width="1.2"/>
<line x1="61.80" y1="937.32" x2="65.80" y2="937.32" stroke="#1a1a1a" stroke-width="1.2"/>
<line x1="1008.80" y1="937.32" x2="1004.80" y2="937.32" stroke="#1a1a1a" stroke-width="1.2"/>
<line x1="61.80" y1="911.15" x2="69.80" y2="911.15" stroke="#1a1a1a" stroke-width="1.2"/>
<line x1="1008.80" y1="911.15" x2="1000.80" y2="911.15" stroke="#1a1a1a" stroke-width="1.2"/>
<text transform="translate(54.0,918.75) scale(1.04,1)" text-anchor="end" class="tk">5</text>
<line x1="61.80" y1="884.97" x2="65.80" y2="884.97" stroke="#1a1a1a" stroke-width="1.2"/>
<line x1="1008.80" y1="884.97" x2="1004.80" y2="884.97" stroke="#1a1a1a" stroke-width="1.2"/>
<line x1="61.80" y1="858.79" x2="69.80" y2="858.79" stroke="#1a1a1a" stroke-width="1.2"/>
<line x1="1008.80" y1="858.79" x2="1000.80" y2="858.79" stroke="#1a1a1a" stroke-width="1.2"/>
<text transform="translate(54.0,866.39) scale(1.04,1)" text-anchor="end" class="tk">10</text>
<line x1="61.80" y1="832.62" x2="65.80" y2="832.62" stroke="#1a1a1a" stroke-width="1.2"/>
<line x1="1008.80" y1="832.62" x2="1004.80" y2="832.62" stroke="#1a1a1a" stroke-width="1.2"/>
<line x1="61.80" y1="806.44" x2="69.80" y2="806.44" stroke="#1a1a1a" stroke-width="1.2"/>
<line x1="1008.80" y1="806.44" x2="1000.80" y2="806.44" stroke="#1a1a1a" stroke-width="1.2"/>
<text transform="translate(54.0,814.04) scale(1.04,1)" text-anchor="end" class="tk">15</text>
<text transform="translate(725.00,839.30) scale(1.2,1)" class="lb" textLength="217.1" lengthAdjust="spacing">Bulk Compositions (SC1)</text>
<rect x="61.8" y="785.5" width="947.0" height="178.0" fill="none" stroke="#1a1a1a" stroke-width="1.3"/>
<rect x="109.15" y="1100.00" width="23.67" height="42.00" fill="#FF7F50"/>
<rect x="132.82" y="1079.00" width="23.68" height="63.00" fill="#FF7F50"/>
<rect x="156.50" y="1068.50" width="23.68" height="73.50" fill="#FF7F50"/>
<rect x="180.18" y="1131.50" width="23.68" height="10.50" fill="#FF7F50"/>
<rect x="203.85" y="1131.50" width="23.67" height="10.50" fill="#FF7F50"/>
<rect x="227.52" y="1131.50" width="23.68" height="10.50" fill="#FF7F50"/>
<rect x="251.20" y="1131.50" width="23.68" height="10.50" fill="#FF7F50"/>
<rect x="322.23" y="1131.50" width="23.68" height="10.50" fill="#FF7F50"/>
<rect x="511.62" y="1131.50" width="23.67" height="10.50" fill="#FF7F50"/>
<rect x="606.32" y="1131.50" width="23.68" height="10.50" fill="#FF7F50"/>
<rect x="653.67" y="1131.50" width="23.68" height="10.50" fill="#FF7F50"/>
<rect x="677.35" y="1131.50" width="23.67" height="10.50" fill="#FF7F50"/>
<rect x="701.02" y="1131.50" width="23.67" height="10.50" fill="#FF7F50"/>
<rect x="724.70" y="1110.50" width="23.68" height="31.50" fill="#FF7F50"/>
<rect x="748.38" y="1100.00" width="23.67" height="42.00" fill="#FF7F50"/>
<rect x="772.05" y="1100.00" width="23.68" height="42.00" fill="#FF7F50"/>
<rect x="795.73" y="1100.00" width="23.67" height="42.00" fill="#FF7F50"/>
<rect x="819.40" y="1100.00" width="23.67" height="42.00" fill="#FF7F50"/>
<rect x="843.07" y="1121.00" width="23.68" height="21.00" fill="#FF7F50"/>
<rect x="866.75" y="1131.50" width="23.67" height="10.50" fill="#FF7F50"/>
<line x1="132.82" y1="1100.00" x2="132.82" y2="1142.00" stroke="#fff" stroke-opacity="0.12" stroke-width="0.6"/>
<line x1="156.50" y1="1079.00" x2="156.50" y2="1142.00" stroke="#fff" stroke-opacity="0.12" stroke-width="0.6"/>
<line x1="180.18" y1="1131.50" x2="180.18" y2="1142.00" stroke="#fff" stroke-opacity="0.12" stroke-width="0.6"/>
<line x1="203.85" y1="1131.50" x2="203.85" y2="1142.00" stroke="#fff" stroke-opacity="0.12" stroke-width="0.6"/>
<line x1="227.52" y1="1131.50" x2="227.52" y2="1142.00" stroke="#fff" stroke-opacity="0.12" stroke-width="0.6"/>
<line x1="251.20" y1="1131.50" x2="251.20" y2="1142.00" stroke="#fff" stroke-opacity="0.12" stroke-width="0.6"/>
<line x1="677.35" y1="1131.50" x2="677.35" y2="1142.00" stroke="#fff" stroke-opacity="0.12" stroke-width="0.6"/>
<line x1="701.02" y1="1131.50" x2="701.02" y2="1142.00" stroke="#fff" stroke-opacity="0.12" stroke-width="0.6"/>
<line x1="724.70" y1="1131.50" x2="724.70" y2="1142.00" stroke="#fff" stroke-opacity="0.12" stroke-width="0.6"/>
<line x1="748.38" y1="1110.50" x2="748.38" y2="1142.00" stroke="#fff" stroke-opacity="0.12" stroke-width="0.6"/>
<line x1="772.05" y1="1100.00" x2="772.05" y2="1142.00" stroke="#fff" stroke-opacity="0.12" stroke-width="0.6"/>
<line x1="795.73" y1="1100.00" x2="795.73" y2="1142.00" stroke="#fff" stroke-opacity="0.12" stroke-width="0.6"/>
<line x1="819.40" y1="1100.00" x2="819.40" y2="1142.00" stroke="#fff" stroke-opacity="0.12" stroke-width="0.6"/>
<line x1="843.07" y1="1121.00" x2="843.07" y2="1142.00" stroke="#fff" stroke-opacity="0.12" stroke-width="0.6"/>
<line x1="866.75" y1="1131.50" x2="866.75" y2="1142.00" stroke="#fff" stroke-opacity="0.12" stroke-width="0.6"/>
<line x1="85.47" y1="1142.00" x2="85.47" y2="1138.00" stroke="#1a1a1a" stroke-width="1.2"/>
<line x1="85.47" y1="963.50" x2="85.47" y2="967.50" stroke="#1a1a1a" stroke-width="1.2"/>
<line x1="109.15" y1="1142.00" x2="109.15" y2="1138.00" stroke="#1a1a1a" stroke-width="1.2"/>
<line x1="109.15" y1="963.50" x2="109.15" y2="967.50" stroke="#1a1a1a" stroke-width="1.2"/>
<line x1="132.82" y1="1142.00" x2="132.82" y2="1138.00" stroke="#1a1a1a" stroke-width="1.2"/>
<line x1="132.82" y1="963.50" x2="132.82" y2="967.50" stroke="#1a1a1a" stroke-width="1.2"/>
<line x1="156.50" y1="1142.00" x2="156.50" y2="1138.00" stroke="#1a1a1a" stroke-width="1.2"/>
<line x1="156.50" y1="963.50" x2="156.50" y2="967.50" stroke="#1a1a1a" stroke-width="1.2"/>
<line x1="180.18" y1="1142.00" x2="180.18" y2="1134.00" stroke="#1a1a1a" stroke-width="1.2"/>
<line x1="180.18" y1="963.50" x2="180.18" y2="971.50" stroke="#1a1a1a" stroke-width="1.2"/>
<line x1="203.85" y1="1142.00" x2="203.85" y2="1138.00" stroke="#1a1a1a" stroke-width="1.2"/>
<line x1="203.85" y1="963.50" x2="203.85" y2="967.50" stroke="#1a1a1a" stroke-width="1.2"/>
<line x1="227.52" y1="1142.00" x2="227.52" y2="1138.00" stroke="#1a1a1a" stroke-width="1.2"/>
<line x1="227.52" y1="963.50" x2="227.52" y2="967.50" stroke="#1a1a1a" stroke-width="1.2"/>
<line x1="251.20" y1="1142.00" x2="251.20" y2="1138.00" stroke="#1a1a1a" stroke-width="1.2"/>
<line x1="251.20" y1="963.50" x2="251.20" y2="967.50" stroke="#1a1a1a" stroke-width="1.2"/>
<line x1="274.88" y1="1142.00" x2="274.88" y2="1138.00" stroke="#1a1a1a" stroke-width="1.2"/>
<line x1="274.88" y1="963.50" x2="274.88" y2="967.50" stroke="#1a1a1a" stroke-width="1.2"/>
<line x1="298.55" y1="1142.00" x2="298.55" y2="1134.00" stroke="#1a1a1a" stroke-width="1.2"/>
<line x1="298.55" y1="963.50" x2="298.55" y2="971.50" stroke="#1a1a1a" stroke-width="1.2"/>
<line x1="322.23" y1="1142.00" x2="322.23" y2="1138.00" stroke="#1a1a1a" stroke-width="1.2"/>
<line x1="322.23" y1="963.50" x2="322.23" y2="967.50" stroke="#1a1a1a" stroke-width="1.2"/>
<line x1="345.90" y1="1142.00" x2="345.90" y2="1138.00" stroke="#1a1a1a" stroke-width="1.2"/>
<line x1="345.90" y1="963.50" x2="345.90" y2="967.50" stroke="#1a1a1a" stroke-width="1.2"/>
<line x1="369.58" y1="1142.00" x2="369.58" y2="1138.00" stroke="#1a1a1a" stroke-width="1.2"/>
<line x1="369.58" y1="963.50" x2="369.58" y2="967.50" stroke="#1a1a1a" stroke-width="1.2"/>
<line x1="393.25" y1="1142.00" x2="393.25" y2="1138.00" stroke="#1a1a1a" stroke-width="1.2"/>
<line x1="393.25" y1="963.50" x2="393.25" y2="967.50" stroke="#1a1a1a" stroke-width="1.2"/>
<line x1="416.93" y1="1142.00" x2="416.93" y2="1134.00" stroke="#1a1a1a" stroke-width="1.2"/>
<line x1="416.93" y1="963.50" x2="416.93" y2="971.50" stroke="#1a1a1a" stroke-width="1.2"/>
<line x1="440.60" y1="1142.00" x2="440.60" y2="1138.00" stroke="#1a1a1a" stroke-width="1.2"/>
<line x1="440.60" y1="963.50" x2="440.60" y2="967.50" stroke="#1a1a1a" stroke-width="1.2"/>
<line x1="464.28" y1="1142.00" x2="464.28" y2="1138.00" stroke="#1a1a1a" stroke-width="1.2"/>
<line x1="464.28" y1="963.50" x2="464.28" y2="967.50" stroke="#1a1a1a" stroke-width="1.2"/>
<line x1="487.95" y1="1142.00" x2="487.95" y2="1138.00" stroke="#1a1a1a" stroke-width="1.2"/>
<line x1="487.95" y1="963.50" x2="487.95" y2="967.50" stroke="#1a1a1a" stroke-width="1.2"/>
<line x1="511.62" y1="1142.00" x2="511.62" y2="1138.00" stroke="#1a1a1a" stroke-width="1.2"/>
<line x1="511.62" y1="963.50" x2="511.62" y2="967.50" stroke="#1a1a1a" stroke-width="1.2"/>
<line x1="535.30" y1="1142.00" x2="535.30" y2="1134.00" stroke="#1a1a1a" stroke-width="1.2"/>
<line x1="535.30" y1="963.50" x2="535.30" y2="971.50" stroke="#1a1a1a" stroke-width="1.2"/>
<line x1="558.98" y1="1142.00" x2="558.98" y2="1138.00" stroke="#1a1a1a" stroke-width="1.2"/>
<line x1="558.98" y1="963.50" x2="558.98" y2="967.50" stroke="#1a1a1a" stroke-width="1.2"/>
<line x1="582.65" y1="1142.00" x2="582.65" y2="1138.00" stroke="#1a1a1a" stroke-width="1.2"/>
<line x1="582.65" y1="963.50" x2="582.65" y2="967.50" stroke="#1a1a1a" stroke-width="1.2"/>
<line x1="606.32" y1="1142.00" x2="606.32" y2="1138.00" stroke="#1a1a1a" stroke-width="1.2"/>
<line x1="606.32" y1="963.50" x2="606.32" y2="967.50" stroke="#1a1a1a" stroke-width="1.2"/>
<line x1="630.00" y1="1142.00" x2="630.00" y2="1138.00" stroke="#1a1a1a" stroke-width="1.2"/>
<line x1="630.00" y1="963.50" x2="630.00" y2="967.50" stroke="#1a1a1a" stroke-width="1.2"/>
<line x1="653.67" y1="1142.00" x2="653.67" y2="1134.00" stroke="#1a1a1a" stroke-width="1.2"/>
<line x1="653.67" y1="963.50" x2="653.67" y2="971.50" stroke="#1a1a1a" stroke-width="1.2"/>
<line x1="677.35" y1="1142.00" x2="677.35" y2="1138.00" stroke="#1a1a1a" stroke-width="1.2"/>
<line x1="677.35" y1="963.50" x2="677.35" y2="967.50" stroke="#1a1a1a" stroke-width="1.2"/>
<line x1="701.02" y1="1142.00" x2="701.02" y2="1138.00" stroke="#1a1a1a" stroke-width="1.2"/>
<line x1="701.02" y1="963.50" x2="701.02" y2="967.50" stroke="#1a1a1a" stroke-width="1.2"/>
<line x1="724.70" y1="1142.00" x2="724.70" y2="1138.00" stroke="#1a1a1a" stroke-width="1.2"/>
<line x1="724.70" y1="963.50" x2="724.70" y2="967.50" stroke="#1a1a1a" stroke-width="1.2"/>
<line x1="748.38" y1="1142.00" x2="748.38" y2="1138.00" stroke="#1a1a1a" stroke-width="1.2"/>
<line x1="748.38" y1="963.50" x2="748.38" y2="967.50" stroke="#1a1a1a" stroke-width="1.2"/>
<line x1="772.05" y1="1142.00" x2="772.05" y2="1134.00" stroke="#1a1a1a" stroke-width="1.2"/>
<line x1="772.05" y1="963.50" x2="772.05" y2="971.50" stroke="#1a1a1a" stroke-width="1.2"/>
<line x1="795.73" y1="1142.00" x2="795.73" y2="1138.00" stroke="#1a1a1a" stroke-width="1.2"/>
<line x1="795.73" y1="963.50" x2="795.73" y2="967.50" stroke="#1a1a1a" stroke-width="1.2"/>
<line x1="819.40" y1="1142.00" x2="819.40" y2="1138.00" stroke="#1a1a1a" stroke-width="1.2"/>
<line x1="819.40" y1="963.50" x2="819.40" y2="967.50" stroke="#1a1a1a" stroke-width="1.2"/>
<line x1="843.07" y1="1142.00" x2="843.07" y2="1138.00" stroke="#1a1a1a" stroke-width="1.2"/>
<line x1="843.07" y1="963.50" x2="843.07" y2="967.50" stroke="#1a1a1a" stroke-width="1.2"/>
<line x1="866.75" y1="1142.00" x2="866.75" y2="1138.00" stroke="#1a1a1a" stroke-width="1.2"/>
<line x1="866.75" y1="963.50" x2="866.75" y2="967.50" stroke="#1a1a1a" stroke-width="1.2"/>
<line x1="890.42" y1="1142.00" x2="890.42" y2="1134.00" stroke="#1a1a1a" stroke-width="1.2"/>
<line x1="890.42" y1="963.50" x2="890.42" y2="971.50" stroke="#1a1a1a" stroke-width="1.2"/>
<line x1="914.10" y1="1142.00" x2="914.10" y2="1138.00" stroke="#1a1a1a" stroke-width="1.2"/>
<line x1="914.10" y1="963.50" x2="914.10" y2="967.50" stroke="#1a1a1a" stroke-width="1.2"/>
<line x1="937.77" y1="1142.00" x2="937.77" y2="1138.00" stroke="#1a1a1a" stroke-width="1.2"/>
<line x1="937.77" y1="963.50" x2="937.77" y2="967.50" stroke="#1a1a1a" stroke-width="1.2"/>
<line x1="961.45" y1="1142.00" x2="961.45" y2="1138.00" stroke="#1a1a1a" stroke-width="1.2"/>
<line x1="961.45" y1="963.50" x2="961.45" y2="967.50" stroke="#1a1a1a" stroke-width="1.2"/>
<line x1="985.12" y1="1142.00" x2="985.12" y2="1138.00" stroke="#1a1a1a" stroke-width="1.2"/>
<line x1="985.12" y1="963.50" x2="985.12" y2="967.50" stroke="#1a1a1a" stroke-width="1.2"/>
<line x1="61.80" y1="1115.75" x2="65.80" y2="1115.75" stroke="#1a1a1a" stroke-width="1.2"/>
<line x1="1008.80" y1="1115.75" x2="1004.80" y2="1115.75" stroke="#1a1a1a" stroke-width="1.2"/>
<line x1="61.80" y1="1089.50" x2="69.80" y2="1089.50" stroke="#1a1a1a" stroke-width="1.2"/>
<line x1="1008.80" y1="1089.50" x2="1000.80" y2="1089.50" stroke="#1a1a1a" stroke-width="1.2"/>
<text transform="translate(54.0,1097.10) scale(1.04,1)" text-anchor="end" class="tk">5</text>
<line x1="61.80" y1="1063.25" x2="65.80" y2="1063.25" stroke="#1a1a1a" stroke-width="1.2"/>
<line x1="1008.80" y1="1063.25" x2="1004.80" y2="1063.25" stroke="#1a1a1a" stroke-width="1.2"/>
<line x1="61.80" y1="1037.00" x2="69.80" y2="1037.00" stroke="#1a1a1a" stroke-width="1.2"/>
<line x1="1008.80" y1="1037.00" x2="1000.80" y2="1037.00" stroke="#1a1a1a" stroke-width="1.2"/>
<text transform="translate(54.0,1044.60) scale(1.04,1)" text-anchor="end" class="tk">10</text>
<line x1="61.80" y1="1010.75" x2="65.80" y2="1010.75" stroke="#1a1a1a" stroke-width="1.2"/>
<line x1="1008.80" y1="1010.75" x2="1004.80" y2="1010.75" stroke="#1a1a1a" stroke-width="1.2"/>
<line x1="61.80" y1="984.50" x2="69.80" y2="984.50" stroke="#1a1a1a" stroke-width="1.2"/>
<line x1="1008.80" y1="984.50" x2="1000.80" y2="984.50" stroke="#1a1a1a" stroke-width="1.2"/>
<text transform="translate(54.0,992.10) scale(1.04,1)" text-anchor="end" class="tk">15</text>
<text transform="translate(725.80,1009.90) scale(1.2,1)" class="lb" textLength="141.3" lengthAdjust="spacing">Architectures &amp;</text>
<text transform="translate(731.70,1034.80) scale(1.2,1)" class="lb" textLength="137.2" lengthAdjust="spacing">Dynamics (SC2)</text>
<rect x="61.8" y="963.5" width="947.0" height="178.5" fill="none" stroke="#1a1a1a" stroke-width="1.3"/>
<rect x="85.47" y="1299.59" width="23.68" height="21.01" fill="#32CD32"/>
<rect x="109.15" y="1278.58" width="23.67" height="42.02" fill="#32CD32"/>
<rect x="132.82" y="1268.07" width="23.68" height="52.53" fill="#32CD32"/>
<rect x="156.50" y="1268.07" width="23.68" height="52.53" fill="#32CD32"/>
<rect x="227.52" y="1299.59" width="23.68" height="21.01" fill="#32CD32"/>
<rect x="322.23" y="1310.09" width="23.68" height="10.51" fill="#32CD32"/>
<rect x="795.73" y="1310.09" width="23.67" height="10.51" fill="#32CD32"/>
<line x1="109.15" y1="1299.59" x2="109.15" y2="1320.60" stroke="#fff" stroke-opacity="0.12" stroke-width="0.6"/>
<line x1="132.82" y1="1278.58" x2="132.82" y2="1320.60" stroke="#fff" stroke-opacity="0.12" stroke-width="0.6"/>
<line x1="156.50" y1="1268.07" x2="156.50" y2="1320.60" stroke="#fff" stroke-opacity="0.12" stroke-width="0.6"/>
<line x1="85.47" y1="1320.60" x2="85.47" y2="1316.60" stroke="#1a1a1a" stroke-width="1.2"/>
<line x1="85.47" y1="1142.00" x2="85.47" y2="1146.00" stroke="#1a1a1a" stroke-width="1.2"/>
<line x1="109.15" y1="1320.60" x2="109.15" y2="1316.60" stroke="#1a1a1a" stroke-width="1.2"/>
<line x1="109.15" y1="1142.00" x2="109.15" y2="1146.00" stroke="#1a1a1a" stroke-width="1.2"/>
<line x1="132.82" y1="1320.60" x2="132.82" y2="1316.60" stroke="#1a1a1a" stroke-width="1.2"/>
<line x1="132.82" y1="1142.00" x2="132.82" y2="1146.00" stroke="#1a1a1a" stroke-width="1.2"/>
<line x1="156.50" y1="1320.60" x2="156.50" y2="1316.60" stroke="#1a1a1a" stroke-width="1.2"/>
<line x1="156.50" y1="1142.00" x2="156.50" y2="1146.00" stroke="#1a1a1a" stroke-width="1.2"/>
<line x1="180.18" y1="1320.60" x2="180.18" y2="1312.60" stroke="#1a1a1a" stroke-width="1.2"/>
<line x1="180.18" y1="1142.00" x2="180.18" y2="1150.00" stroke="#1a1a1a" stroke-width="1.2"/>
<line x1="203.85" y1="1320.60" x2="203.85" y2="1316.60" stroke="#1a1a1a" stroke-width="1.2"/>
<line x1="203.85" y1="1142.00" x2="203.85" y2="1146.00" stroke="#1a1a1a" stroke-width="1.2"/>
<line x1="227.52" y1="1320.60" x2="227.52" y2="1316.60" stroke="#1a1a1a" stroke-width="1.2"/>
<line x1="227.52" y1="1142.00" x2="227.52" y2="1146.00" stroke="#1a1a1a" stroke-width="1.2"/>
<line x1="251.20" y1="1320.60" x2="251.20" y2="1316.60" stroke="#1a1a1a" stroke-width="1.2"/>
<line x1="251.20" y1="1142.00" x2="251.20" y2="1146.00" stroke="#1a1a1a" stroke-width="1.2"/>
<line x1="274.88" y1="1320.60" x2="274.88" y2="1316.60" stroke="#1a1a1a" stroke-width="1.2"/>
<line x1="274.88" y1="1142.00" x2="274.88" y2="1146.00" stroke="#1a1a1a" stroke-width="1.2"/>
<line x1="298.55" y1="1320.60" x2="298.55" y2="1312.60" stroke="#1a1a1a" stroke-width="1.2"/>
<line x1="298.55" y1="1142.00" x2="298.55" y2="1150.00" stroke="#1a1a1a" stroke-width="1.2"/>
<line x1="322.23" y1="1320.60" x2="322.23" y2="1316.60" stroke="#1a1a1a" stroke-width="1.2"/>
<line x1="322.23" y1="1142.00" x2="322.23" y2="1146.00" stroke="#1a1a1a" stroke-width="1.2"/>
<line x1="345.90" y1="1320.60" x2="345.90" y2="1316.60" stroke="#1a1a1a" stroke-width="1.2"/>
<line x1="345.90" y1="1142.00" x2="345.90" y2="1146.00" stroke="#1a1a1a" stroke-width="1.2"/>
<line x1="369.58" y1="1320.60" x2="369.58" y2="1316.60" stroke="#1a1a1a" stroke-width="1.2"/>
<line x1="369.58" y1="1142.00" x2="369.58" y2="1146.00" stroke="#1a1a1a" stroke-width="1.2"/>
<line x1="393.25" y1="1320.60" x2="393.25" y2="1316.60" stroke="#1a1a1a" stroke-width="1.2"/>
<line x1="393.25" y1="1142.00" x2="393.25" y2="1146.00" stroke="#1a1a1a" stroke-width="1.2"/>
<line x1="416.93" y1="1320.60" x2="416.93" y2="1312.60" stroke="#1a1a1a" stroke-width="1.2"/>
<line x1="416.93" y1="1142.00" x2="416.93" y2="1150.00" stroke="#1a1a1a" stroke-width="1.2"/>
<line x1="440.60" y1="1320.60" x2="440.60" y2="1316.60" stroke="#1a1a1a" stroke-width="1.2"/>
<line x1="440.60" y1="1142.00" x2="440.60" y2="1146.00" stroke="#1a1a1a" stroke-width="1.2"/>
<line x1="464.28" y1="1320.60" x2="464.28" y2="1316.60" stroke="#1a1a1a" stroke-width="1.2"/>
<line x1="464.28" y1="1142.00" x2="464.28" y2="1146.00" stroke="#1a1a1a" stroke-width="1.2"/>
<line x1="487.95" y1="1320.60" x2="487.95" y2="1316.60" stroke="#1a1a1a" stroke-width="1.2"/>
<line x1="487.95" y1="1142.00" x2="487.95" y2="1146.00" stroke="#1a1a1a" stroke-width="1.2"/>
<line x1="511.62" y1="1320.60" x2="511.62" y2="1316.60" stroke="#1a1a1a" stroke-width="1.2"/>
<line x1="511.62" y1="1142.00" x2="511.62" y2="1146.00" stroke="#1a1a1a" stroke-width="1.2"/>
<line x1="535.30" y1="1320.60" x2="535.30" y2="1312.60" stroke="#1a1a1a" stroke-width="1.2"/>
<line x1="535.30" y1="1142.00" x2="535.30" y2="1150.00" stroke="#1a1a1a" stroke-width="1.2"/>
<line x1="558.98" y1="1320.60" x2="558.98" y2="1316.60" stroke="#1a1a1a" stroke-width="1.2"/>
<line x1="558.98" y1="1142.00" x2="558.98" y2="1146.00" stroke="#1a1a1a" stroke-width="1.2"/>
<line x1="582.65" y1="1320.60" x2="582.65" y2="1316.60" stroke="#1a1a1a" stroke-width="1.2"/>
<line x1="582.65" y1="1142.00" x2="582.65" y2="1146.00" stroke="#1a1a1a" stroke-width="1.2"/>
<line x1="606.32" y1="1320.60" x2="606.32" y2="1316.60" stroke="#1a1a1a" stroke-width="1.2"/>
<line x1="606.32" y1="1142.00" x2="606.32" y2="1146.00" stroke="#1a1a1a" stroke-width="1.2"/>
<line x1="630.00" y1="1320.60" x2="630.00" y2="1316.60" stroke="#1a1a1a" stroke-width="1.2"/>
<line x1="630.00" y1="1142.00" x2="630.00" y2="1146.00" stroke="#1a1a1a" stroke-width="1.2"/>
<line x1="653.67" y1="1320.60" x2="653.67" y2="1312.60" stroke="#1a1a1a" stroke-width="1.2"/>
<line x1="653.67" y1="1142.00" x2="653.67" y2="1150.00" stroke="#1a1a1a" stroke-width="1.2"/>
<line x1="677.35" y1="1320.60" x2="677.35" y2="1316.60" stroke="#1a1a1a" stroke-width="1.2"/>
<line x1="677.35" y1="1142.00" x2="677.35" y2="1146.00" stroke="#1a1a1a" stroke-width="1.2"/>
<line x1="701.02" y1="1320.60" x2="701.02" y2="1316.60" stroke="#1a1a1a" stroke-width="1.2"/>
<line x1="701.02" y1="1142.00" x2="701.02" y2="1146.00" stroke="#1a1a1a" stroke-width="1.2"/>
<line x1="724.70" y1="1320.60" x2="724.70" y2="1316.60" stroke="#1a1a1a" stroke-width="1.2"/>
<line x1="724.70" y1="1142.00" x2="724.70" y2="1146.00" stroke="#1a1a1a" stroke-width="1.2"/>
<line x1="748.38" y1="1320.60" x2="748.38" y2="1316.60" stroke="#1a1a1a" stroke-width="1.2"/>
<line x1="748.38" y1="1142.00" x2="748.38" y2="1146.00" stroke="#1a1a1a" stroke-width="1.2"/>
<line x1="772.05" y1="1320.60" x2="772.05" y2="1312.60" stroke="#1a1a1a" stroke-width="1.2"/>
<line x1="772.05" y1="1142.00" x2="772.05" y2="1150.00" stroke="#1a1a1a" stroke-width="1.2"/>
<line x1="795.73" y1="1320.60" x2="795.73" y2="1316.60" stroke="#1a1a1a" stroke-width="1.2"/>
<line x1="795.73" y1="1142.00" x2="795.73" y2="1146.00" stroke="#1a1a1a" stroke-width="1.2"/>
<line x1="819.40" y1="1320.60" x2="819.40" y2="1316.60" stroke="#1a1a1a" stroke-width="1.2"/>
<line x1="819.40" y1="1142.00" x2="819.40" y2="1146.00" stroke="#1a1a1a" stroke-width="1.2"/>
<line x1="843.07" y1="1320.60" x2="843.07" y2="1316.60" stroke="#1a1a1a" stroke-width="1.2"/>
<line x1="843.07" y1="1142.00" x2="843.07" y2="1146.00" stroke="#1a1a1a" stroke-width="1.2"/>
<line x1="866.75" y1="1320.60" x2="866.75" y2="1316.60" stroke="#1a1a1a" stroke-width="1.2"/>
<line x1="866.75" y1="1142.00" x2="866.75" y2="1146.00" stroke="#1a1a1a" stroke-width="1.2"/>
<line x1="890.42" y1="1320.60" x2="890.42" y2="1312.60" stroke="#1a1a1a" stroke-width="1.2"/>
<line x1="890.42" y1="1142.00" x2="890.42" y2="1150.00" stroke="#1a1a1a" stroke-width="1.2"/>
<line x1="914.10" y1="1320.60" x2="914.10" y2="1316.60" stroke="#1a1a1a" stroke-width="1.2"/>
<line x1="914.10" y1="1142.00" x2="914.10" y2="1146.00" stroke="#1a1a1a" stroke-width="1.2"/>
<line x1="937.77" y1="1320.60" x2="937.77" y2="1316.60" stroke="#1a1a1a" stroke-width="1.2"/>
<line x1="937.77" y1="1142.00" x2="937.77" y2="1146.00" stroke="#1a1a1a" stroke-width="1.2"/>
<line x1="961.45" y1="1320.60" x2="961.45" y2="1316.60" stroke="#1a1a1a" stroke-width="1.2"/>
<line x1="961.45" y1="1142.00" x2="961.45" y2="1146.00" stroke="#1a1a1a" stroke-width="1.2"/>
<line x1="985.12" y1="1320.60" x2="985.12" y2="1316.60" stroke="#1a1a1a" stroke-width="1.2"/>
<line x1="985.12" y1="1142.00" x2="985.12" y2="1146.00" stroke="#1a1a1a" stroke-width="1.2"/>
<line x1="61.80" y1="1294.34" x2="65.80" y2="1294.34" stroke="#1a1a1a" stroke-width="1.2"/>
<line x1="1008.80" y1="1294.34" x2="1004.80" y2="1294.34" stroke="#1a1a1a" stroke-width="1.2"/>
<line x1="61.80" y1="1268.07" x2="69.80" y2="1268.07" stroke="#1a1a1a" stroke-width="1.2"/>
<line x1="1008.80" y1="1268.07" x2="1000.80" y2="1268.07" stroke="#1a1a1a" stroke-width="1.2"/>
<text transform="translate(54.0,1275.67) scale(1.04,1)" text-anchor="end" class="tk">5</text>
<line x1="61.80" y1="1241.81" x2="65.80" y2="1241.81" stroke="#1a1a1a" stroke-width="1.2"/>
<line x1="1008.80" y1="1241.81" x2="1004.80" y2="1241.81" stroke="#1a1a1a" stroke-width="1.2"/>
<line x1="61.80" y1="1215.54" x2="69.80" y2="1215.54" stroke="#1a1a1a" stroke-width="1.2"/>
<line x1="1008.80" y1="1215.54" x2="1000.80" y2="1215.54" stroke="#1a1a1a" stroke-width="1.2"/>
<text transform="translate(54.0,1223.14) scale(1.04,1)" text-anchor="end" class="tk">10</text>
<line x1="61.80" y1="1189.28" x2="65.80" y2="1189.28" stroke="#1a1a1a" stroke-width="1.2"/>
<line x1="1008.80" y1="1189.28" x2="1004.80" y2="1189.28" stroke="#1a1a1a" stroke-width="1.2"/>
<line x1="61.80" y1="1163.01" x2="69.80" y2="1163.01" stroke="#1a1a1a" stroke-width="1.2"/>
<line x1="1008.80" y1="1163.01" x2="1000.80" y2="1163.01" stroke="#1a1a1a" stroke-width="1.2"/>
<text transform="translate(54.0,1170.61) scale(1.04,1)" text-anchor="end" class="tk">15</text>
<text transform="translate(726.30,1195.30) scale(1.2,1)" class="lb" textLength="168.1" lengthAdjust="spacing">Atmospheres (SC3)</text>
<rect x="61.8" y="1142.0" width="947.0" height="178.5999999999999" fill="none" stroke="#1a1a1a" stroke-width="1.3"/>
<rect x="85.47" y="1488.79" width="23.68" height="10.51" fill="#9400D3"/>
<rect x="109.15" y="1446.74" width="23.67" height="52.56" fill="#9400D3"/>
<rect x="132.82" y="1467.76" width="23.68" height="31.54" fill="#9400D3"/>
<rect x="156.50" y="1467.76" width="23.68" height="31.54" fill="#9400D3"/>
<rect x="180.18" y="1488.79" width="23.68" height="10.51" fill="#9400D3"/>
<rect x="203.85" y="1478.28" width="23.67" height="21.02" fill="#9400D3"/>
<rect x="298.55" y="1488.79" width="23.68" height="10.51" fill="#9400D3"/>
<line x1="109.15" y1="1488.79" x2="109.15" y2="1499.30" stroke="#fff" stroke-opacity="0.12" stroke-width="0.6"/>
<line x1="132.82" y1="1467.76" x2="132.82" y2="1499.30" stroke="#fff" stroke-opacity="0.12" stroke-width="0.6"/>
<line x1="156.50" y1="1467.76" x2="156.50" y2="1499.30" stroke="#fff" stroke-opacity="0.12" stroke-width="0.6"/>
<line x1="180.18" y1="1488.79" x2="180.18" y2="1499.30" stroke="#fff" stroke-opacity="0.12" stroke-width="0.6"/>
<line x1="203.85" y1="1488.79" x2="203.85" y2="1499.30" stroke="#fff" stroke-opacity="0.12" stroke-width="0.6"/>
<line x1="85.47" y1="1499.30" x2="85.47" y2="1495.30" stroke="#1a1a1a" stroke-width="1.2"/>
<line x1="85.47" y1="1320.60" x2="85.47" y2="1324.60" stroke="#1a1a1a" stroke-width="1.2"/>
<line x1="109.15" y1="1499.30" x2="109.15" y2="1495.30" stroke="#1a1a1a" stroke-width="1.2"/>
<line x1="109.15" y1="1320.60" x2="109.15" y2="1324.60" stroke="#1a1a1a" stroke-width="1.2"/>
<line x1="132.82" y1="1499.30" x2="132.82" y2="1495.30" stroke="#1a1a1a" stroke-width="1.2"/>
<line x1="132.82" y1="1320.60" x2="132.82" y2="1324.60" stroke="#1a1a1a" stroke-width="1.2"/>
<line x1="156.50" y1="1499.30" x2="156.50" y2="1495.30" stroke="#1a1a1a" stroke-width="1.2"/>
<line x1="156.50" y1="1320.60" x2="156.50" y2="1324.60" stroke="#1a1a1a" stroke-width="1.2"/>
<line x1="180.18" y1="1499.30" x2="180.18" y2="1491.30" stroke="#1a1a1a" stroke-width="1.2"/>
<line x1="180.18" y1="1320.60" x2="180.18" y2="1328.60" stroke="#1a1a1a" stroke-width="1.2"/>
<line x1="203.85" y1="1499.30" x2="203.85" y2="1495.30" stroke="#1a1a1a" stroke-width="1.2"/>
<line x1="203.85" y1="1320.60" x2="203.85" y2="1324.60" stroke="#1a1a1a" stroke-width="1.2"/>
<line x1="227.52" y1="1499.30" x2="227.52" y2="1495.30" stroke="#1a1a1a" stroke-width="1.2"/>
<line x1="227.52" y1="1320.60" x2="227.52" y2="1324.60" stroke="#1a1a1a" stroke-width="1.2"/>
<line x1="251.20" y1="1499.30" x2="251.20" y2="1495.30" stroke="#1a1a1a" stroke-width="1.2"/>
<line x1="251.20" y1="1320.60" x2="251.20" y2="1324.60" stroke="#1a1a1a" stroke-width="1.2"/>
<line x1="274.88" y1="1499.30" x2="274.88" y2="1495.30" stroke="#1a1a1a" stroke-width="1.2"/>
<line x1="274.88" y1="1320.60" x2="274.88" y2="1324.60" stroke="#1a1a1a" stroke-width="1.2"/>
<line x1="298.55" y1="1499.30" x2="298.55" y2="1491.30" stroke="#1a1a1a" stroke-width="1.2"/>
<line x1="298.55" y1="1320.60" x2="298.55" y2="1328.60" stroke="#1a1a1a" stroke-width="1.2"/>
<line x1="322.23" y1="1499.30" x2="322.23" y2="1495.30" stroke="#1a1a1a" stroke-width="1.2"/>
<line x1="322.23" y1="1320.60" x2="322.23" y2="1324.60" stroke="#1a1a1a" stroke-width="1.2"/>
<line x1="345.90" y1="1499.30" x2="345.90" y2="1495.30" stroke="#1a1a1a" stroke-width="1.2"/>
<line x1="345.90" y1="1320.60" x2="345.90" y2="1324.60" stroke="#1a1a1a" stroke-width="1.2"/>
<line x1="369.58" y1="1499.30" x2="369.58" y2="1495.30" stroke="#1a1a1a" stroke-width="1.2"/>
<line x1="369.58" y1="1320.60" x2="369.58" y2="1324.60" stroke="#1a1a1a" stroke-width="1.2"/>
<line x1="393.25" y1="1499.30" x2="393.25" y2="1495.30" stroke="#1a1a1a" stroke-width="1.2"/>
<line x1="393.25" y1="1320.60" x2="393.25" y2="1324.60" stroke="#1a1a1a" stroke-width="1.2"/>
<line x1="416.93" y1="1499.30" x2="416.93" y2="1491.30" stroke="#1a1a1a" stroke-width="1.2"/>
<line x1="416.93" y1="1320.60" x2="416.93" y2="1328.60" stroke="#1a1a1a" stroke-width="1.2"/>
<line x1="440.60" y1="1499.30" x2="440.60" y2="1495.30" stroke="#1a1a1a" stroke-width="1.2"/>
<line x1="440.60" y1="1320.60" x2="440.60" y2="1324.60" stroke="#1a1a1a" stroke-width="1.2"/>
<line x1="464.28" y1="1499.30" x2="464.28" y2="1495.30" stroke="#1a1a1a" stroke-width="1.2"/>
<line x1="464.28" y1="1320.60" x2="464.28" y2="1324.60" stroke="#1a1a1a" stroke-width="1.2"/>
<line x1="487.95" y1="1499.30" x2="487.95" y2="1495.30" stroke="#1a1a1a" stroke-width="1.2"/>
<line x1="487.95" y1="1320.60" x2="487.95" y2="1324.60" stroke="#1a1a1a" stroke-width="1.2"/>
<line x1="511.62" y1="1499.30" x2="511.62" y2="1495.30" stroke="#1a1a1a" stroke-width="1.2"/>
<line x1="511.62" y1="1320.60" x2="511.62" y2="1324.60" stroke="#1a1a1a" stroke-width="1.2"/>
<line x1="535.30" y1="1499.30" x2="535.30" y2="1491.30" stroke="#1a1a1a" stroke-width="1.2"/>
<line x1="535.30" y1="1320.60" x2="535.30" y2="1328.60" stroke="#1a1a1a" stroke-width="1.2"/>
<line x1="558.98" y1="1499.30" x2="558.98" y2="1495.30" stroke="#1a1a1a" stroke-width="1.2"/>
<line x1="558.98" y1="1320.60" x2="558.98" y2="1324.60" stroke="#1a1a1a" stroke-width="1.2"/>
<line x1="582.65" y1="1499.30" x2="582.65" y2="1495.30" stroke="#1a1a1a" stroke-width="1.2"/>
<line x1="582.65" y1="1320.60" x2="582.65" y2="1324.60" stroke="#1a1a1a" stroke-width="1.2"/>
<line x1="606.32" y1="1499.30" x2="606.32" y2="1495.30" stroke="#1a1a1a" stroke-width="1.2"/>
<line x1="606.32" y1="1320.60" x2="606.32" y2="1324.60" stroke="#1a1a1a" stroke-width="1.2"/>
<line x1="630.00" y1="1499.30" x2="630.00" y2="1495.30" stroke="#1a1a1a" stroke-width="1.2"/>
<line x1="630.00" y1="1320.60" x2="630.00" y2="1324.60" stroke="#1a1a1a" stroke-width="1.2"/>
<line x1="653.67" y1="1499.30" x2="653.67" y2="1491.30" stroke="#1a1a1a" stroke-width="1.2"/>
<line x1="653.67" y1="1320.60" x2="653.67" y2="1328.60" stroke="#1a1a1a" stroke-width="1.2"/>
<line x1="677.35" y1="1499.30" x2="677.35" y2="1495.30" stroke="#1a1a1a" stroke-width="1.2"/>
<line x1="677.35" y1="1320.60" x2="677.35" y2="1324.60" stroke="#1a1a1a" stroke-width="1.2"/>
<line x1="701.02" y1="1499.30" x2="701.02" y2="1495.30" stroke="#1a1a1a" stroke-width="1.2"/>
<line x1="701.02" y1="1320.60" x2="701.02" y2="1324.60" stroke="#1a1a1a" stroke-width="1.2"/>
<line x1="724.70" y1="1499.30" x2="724.70" y2="1495.30" stroke="#1a1a1a" stroke-width="1.2"/>
<line x1="724.70" y1="1320.60" x2="724.70" y2="1324.60" stroke="#1a1a1a" stroke-width="1.2"/>
<line x1="748.38" y1="1499.30" x2="748.38" y2="1495.30" stroke="#1a1a1a" stroke-width="1.2"/>
<line x1="748.38" y1="1320.60" x2="748.38" y2="1324.60" stroke="#1a1a1a" stroke-width="1.2"/>
<line x1="772.05" y1="1499.30" x2="772.05" y2="1491.30" stroke="#1a1a1a" stroke-width="1.2"/>
<line x1="772.05" y1="1320.60" x2="772.05" y2="1328.60" stroke="#1a1a1a" stroke-width="1.2"/>
<line x1="795.73" y1="1499.30" x2="795.73" y2="1495.30" stroke="#1a1a1a" stroke-width="1.2"/>
<line x1="795.73" y1="1320.60" x2="795.73" y2="1324.60" stroke="#1a1a1a" stroke-width="1.2"/>
<line x1="819.40" y1="1499.30" x2="819.40" y2="1495.30" stroke="#1a1a1a" stroke-width="1.2"/>
<line x1="819.40" y1="1320.60" x2="819.40" y2="1324.60" stroke="#1a1a1a" stroke-width="1.2"/>
<line x1="843.07" y1="1499.30" x2="843.07" y2="1495.30" stroke="#1a1a1a" stroke-width="1.2"/>
<line x1="843.07" y1="1320.60" x2="843.07" y2="1324.60" stroke="#1a1a1a" stroke-width="1.2"/>
<line x1="866.75" y1="1499.30" x2="866.75" y2="1495.30" stroke="#1a1a1a" stroke-width="1.2"/>
<line x1="866.75" y1="1320.60" x2="866.75" y2="1324.60" stroke="#1a1a1a" stroke-width="1.2"/>
<line x1="890.42" y1="1499.30" x2="890.42" y2="1491.30" stroke="#1a1a1a" stroke-width="1.2"/>
<line x1="890.42" y1="1320.60" x2="890.42" y2="1328.60" stroke="#1a1a1a" stroke-width="1.2"/>
<line x1="914.10" y1="1499.30" x2="914.10" y2="1495.30" stroke="#1a1a1a" stroke-width="1.2"/>
<line x1="914.10" y1="1320.60" x2="914.10" y2="1324.60" stroke="#1a1a1a" stroke-width="1.2"/>
<line x1="937.77" y1="1499.30" x2="937.77" y2="1495.30" stroke="#1a1a1a" stroke-width="1.2"/>
<line x1="937.77" y1="1320.60" x2="937.77" y2="1324.60" stroke="#1a1a1a" stroke-width="1.2"/>
<line x1="961.45" y1="1499.30" x2="961.45" y2="1495.30" stroke="#1a1a1a" stroke-width="1.2"/>
<line x1="961.45" y1="1320.60" x2="961.45" y2="1324.60" stroke="#1a1a1a" stroke-width="1.2"/>
<line x1="985.12" y1="1499.30" x2="985.12" y2="1495.30" stroke="#1a1a1a" stroke-width="1.2"/>
<line x1="985.12" y1="1320.60" x2="985.12" y2="1324.60" stroke="#1a1a1a" stroke-width="1.2"/>
<line x1="61.80" y1="1473.02" x2="65.80" y2="1473.02" stroke="#1a1a1a" stroke-width="1.2"/>
<line x1="1008.80" y1="1473.02" x2="1004.80" y2="1473.02" stroke="#1a1a1a" stroke-width="1.2"/>
<line x1="61.80" y1="1446.74" x2="69.80" y2="1446.74" stroke="#1a1a1a" stroke-width="1.2"/>
<line x1="1008.80" y1="1446.74" x2="1000.80" y2="1446.74" stroke="#1a1a1a" stroke-width="1.2"/>
<text transform="translate(54.0,1454.34) scale(1.04,1)" text-anchor="end" class="tk">5</text>
<line x1="61.80" y1="1420.46" x2="65.80" y2="1420.46" stroke="#1a1a1a" stroke-width="1.2"/>
<line x1="1008.80" y1="1420.46" x2="1004.80" y2="1420.46" stroke="#1a1a1a" stroke-width="1.2"/>
<line x1="61.80" y1="1394.18" x2="69.80" y2="1394.18" stroke="#1a1a1a" stroke-width="1.2"/>
<line x1="1008.80" y1="1394.18" x2="1000.80" y2="1394.18" stroke="#1a1a1a" stroke-width="1.2"/>
<text transform="translate(54.0,1401.78) scale(1.04,1)" text-anchor="end" class="tk">10</text>
<line x1="61.80" y1="1367.90" x2="65.80" y2="1367.90" stroke="#1a1a1a" stroke-width="1.2"/>
<line x1="1008.80" y1="1367.90" x2="1004.80" y2="1367.90" stroke="#1a1a1a" stroke-width="1.2"/>
<line x1="61.80" y1="1341.62" x2="69.80" y2="1341.62" stroke="#1a1a1a" stroke-width="1.2"/>
<line x1="1008.80" y1="1341.62" x2="1000.80" y2="1341.62" stroke="#1a1a1a" stroke-width="1.2"/>
<text transform="translate(54.0,1349.22) scale(1.04,1)" text-anchor="end" class="tk">15</text>
<text transform="translate(725.10,1374.60) scale(1.2,1)" class="lb" textLength="172.9" lengthAdjust="spacing">Evolved Hosts (SC4)</text>
<rect x="61.8" y="1320.6" width="947.0" height="178.70000000000005" fill="none" stroke="#1a1a1a" stroke-width="1.3"/>
<text transform="translate(61.80,1521.3) scale(1.07,1)" text-anchor="middle" class="tk">0</text>
<text transform="translate(180.18,1521.3) scale(1.07,1)" text-anchor="middle" class="tk">5</text>
<text transform="translate(298.55,1521.3) scale(1.07,1)" text-anchor="middle" class="tk">10</text>
<text transform="translate(416.93,1521.3) scale(1.07,1)" text-anchor="middle" class="tk">15</text>
<text transform="translate(535.30,1521.3) scale(1.07,1)" text-anchor="middle" class="tk">20</text>
<text transform="translate(653.67,1521.3) scale(1.07,1)" text-anchor="middle" class="tk">25</text>
<text transform="translate(772.05,1521.3) scale(1.07,1)" text-anchor="middle" class="tk">30</text>
<text transform="translate(890.42,1521.3) scale(1.07,1)" text-anchor="middle" class="tk">35</text>
<text transform="translate(1008.80,1521.3) scale(1.07,1)" text-anchor="middle" class="tk">40</text>
<text transform="translate(235.8,1552.4) scale(1.12,1)" class="ax" textLength="533.7" lengthAdjust="spacing">Median &#916;Time (days) Between Observations</text>
<text transform="translate(19,357.0) rotate(-90) scale(1.12,1)" text-anchor="middle" class="ax" textLength="118.7" lengthAdjust="spacing"># of Stars</text>
<text transform="translate(19,1142.0) rotate(-90) scale(1.12,1)" text-anchor="middle" class="ax" textLength="118.7" lengthAdjust="spacing"># of Stars</text>
</svg>
</body></html>
